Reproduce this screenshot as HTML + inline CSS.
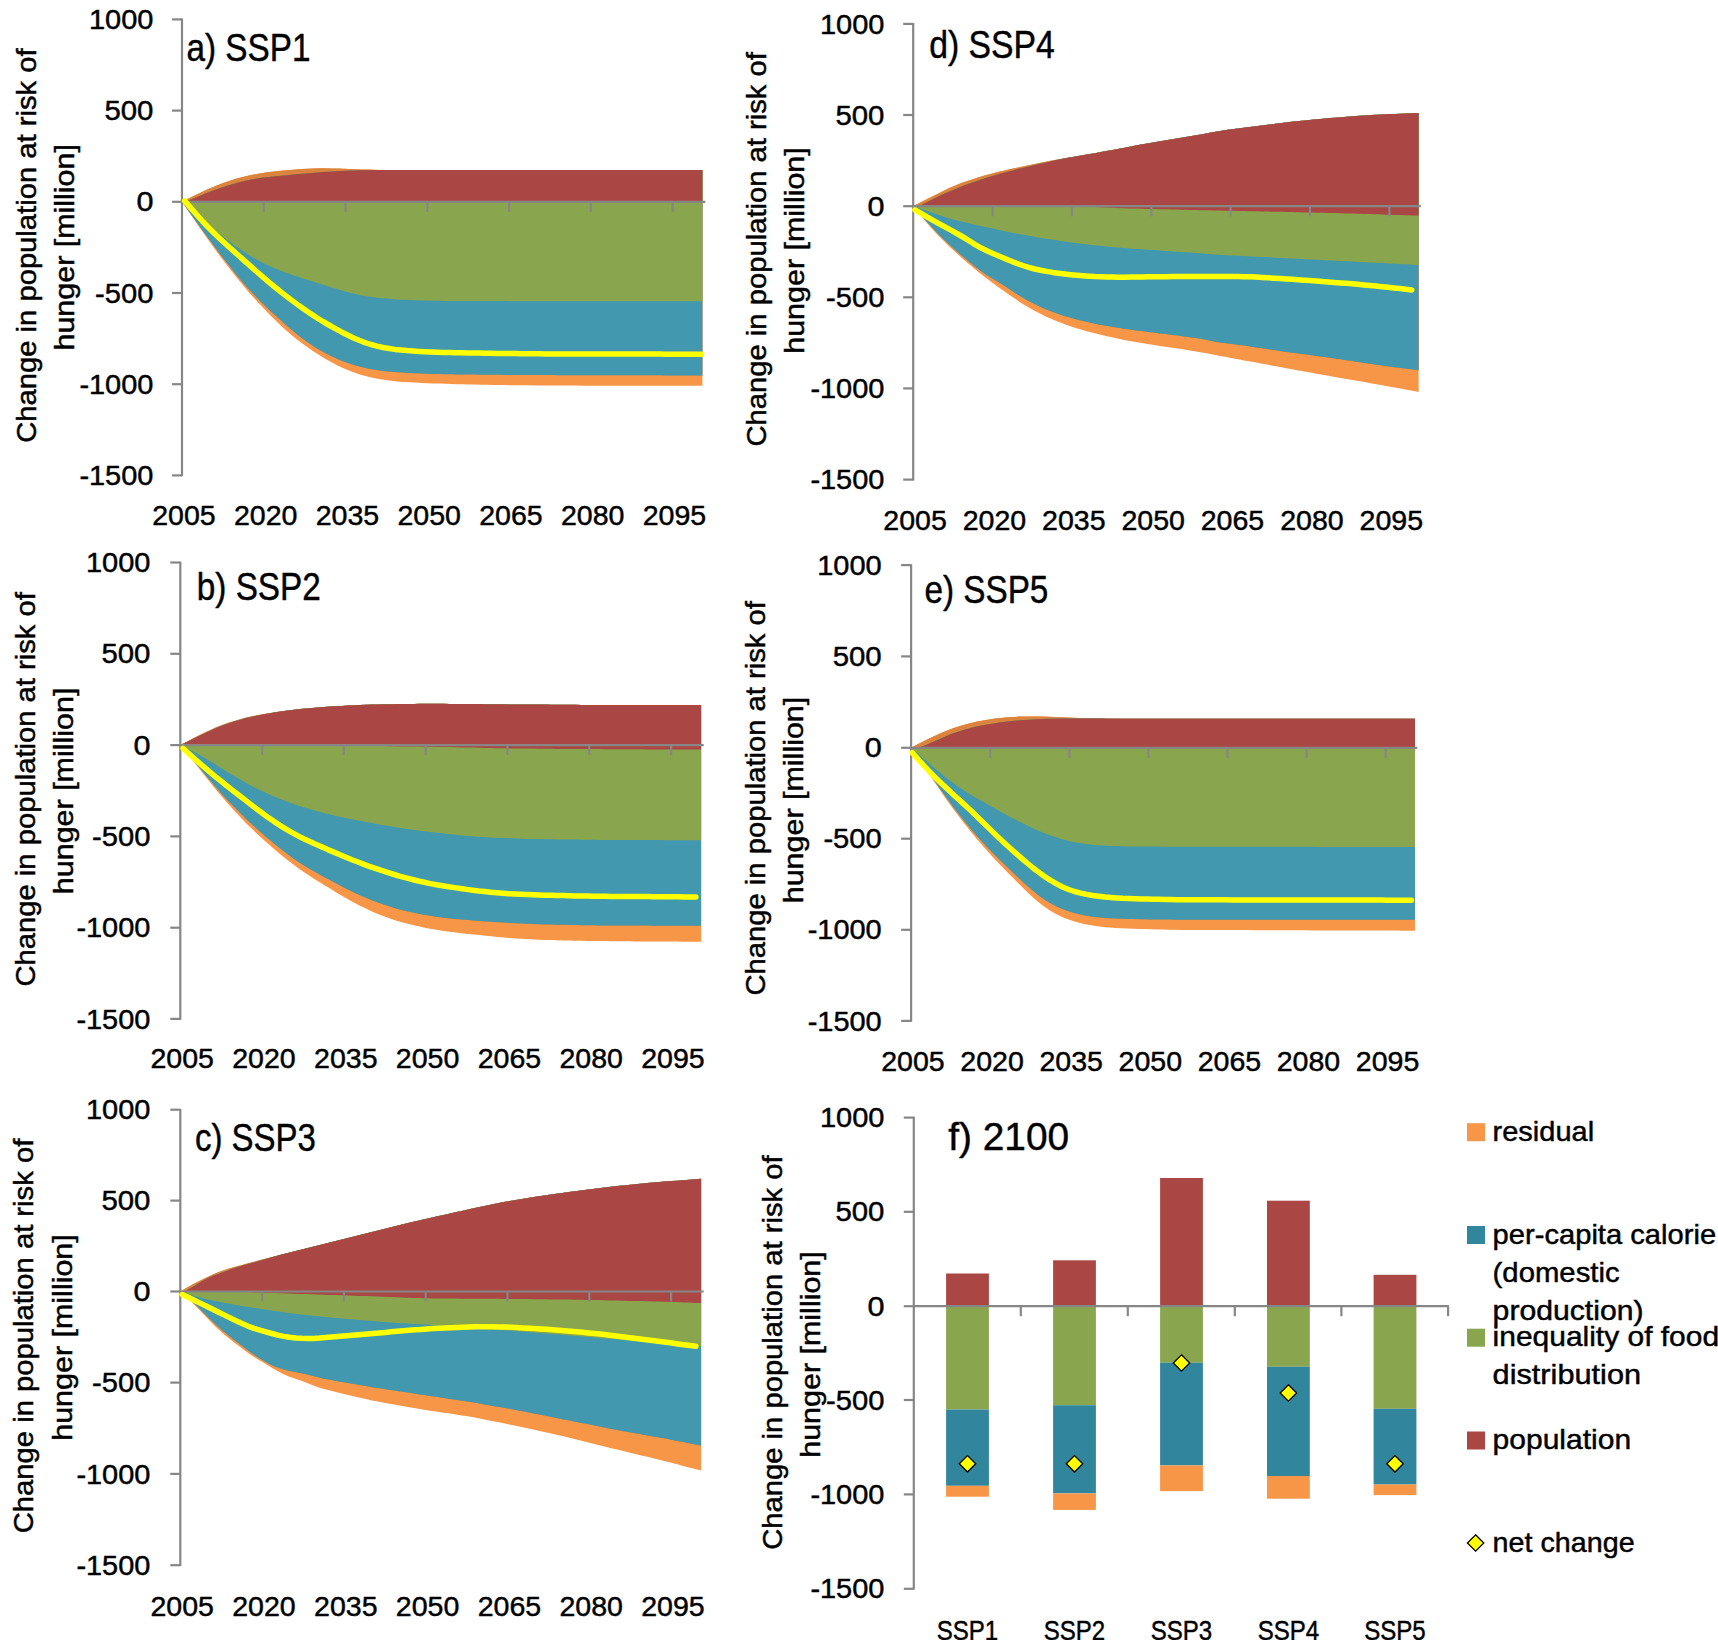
<!DOCTYPE html>
<html lang="en"><head><meta charset="utf-8"><title>Change in population at risk of hunger</title>
<style>html,body{margin:0;padding:0;background:#fff}body{width:1718px;height:1640px;overflow:hidden}svg{display:block}text{font-family:'Liberation Sans', sans-serif;fill:#000;stroke:#000;stroke-width:0.45px}</style>
</head><body>
<svg width="1718" height="1640" viewBox="0 0 1718 1640">
<rect width="1718" height="1640" fill="#fff"/>
<g id="panel-a">
<path d="M182.0 201.8 L188.0 198.8 L194.0 195.8 L199.9 192.9 L205.9 190.1 L211.9 187.4 L217.9 184.9 L223.9 182.7 L229.9 180.7 L235.8 178.8 L241.8 177.2 L247.8 175.8 L253.8 174.5 L259.8 173.4 L265.7 172.5 L271.7 171.7 L277.7 171.0 L283.7 170.4 L289.7 169.9 L295.7 169.4 L301.6 169.0 L307.6 168.7 L313.6 168.5 L319.6 168.3 L325.6 168.3 L331.5 168.4 L337.5 168.5 L343.5 168.7 L349.5 169.0 L355.5 169.2 L361.4 169.4 L367.4 169.6 L373.4 169.8 L379.4 169.9 L385.4 169.9 L391.4 170.0 L397.3 170.0 L403.3 170.0 L409.3 170.0 L415.3 170.0 L421.3 170.0 L427.2 170.0 L433.2 170.0 L439.2 170.0 L445.2 170.0 L451.2 170.0 L457.2 170.0 L463.1 170.0 L469.1 170.0 L475.1 170.0 L481.1 170.0 L487.1 170.0 L493.0 170.0 L499.0 170.0 L505.0 170.0 L511.0 170.0 L517.0 170.0 L523.0 170.0 L528.9 170.0 L534.9 170.0 L540.9 170.0 L546.9 170.0 L552.9 170.0 L558.8 170.0 L564.8 170.0 L570.8 170.0 L576.8 170.0 L582.8 170.0 L588.7 170.0 L594.7 170.0 L600.7 170.0 L606.7 170.0 L612.7 170.0 L618.7 170.0 L624.6 170.0 L630.6 170.0 L636.6 170.0 L642.6 170.0 L648.6 170.0 L654.5 170.0 L660.5 170.0 L666.5 170.0 L672.5 170.0 L678.5 170.0 L684.5 170.0 L690.4 170.0 L696.4 170.0 L702.4 170.0 L702.4 385.8 L696.4 385.8 L690.4 385.8 L684.5 385.8 L678.5 385.8 L672.5 385.8 L666.5 385.8 L660.5 385.8 L654.5 385.7 L648.6 385.7 L642.6 385.7 L636.6 385.7 L630.6 385.7 L624.6 385.7 L618.7 385.7 L612.7 385.7 L606.7 385.7 L600.7 385.7 L594.7 385.7 L588.7 385.7 L582.8 385.7 L576.8 385.6 L570.8 385.6 L564.8 385.6 L558.8 385.6 L552.9 385.5 L546.9 385.5 L540.9 385.4 L534.9 385.4 L528.9 385.3 L523.0 385.3 L517.0 385.2 L511.0 385.2 L505.0 385.1 L499.0 385.0 L493.0 384.9 L487.1 384.8 L481.1 384.7 L475.1 384.6 L469.1 384.4 L463.1 384.3 L457.2 384.2 L451.2 384.0 L445.2 383.8 L439.2 383.6 L433.2 383.4 L427.2 383.2 L421.3 382.9 L415.3 382.6 L409.3 382.3 L403.3 381.9 L397.3 381.4 L391.4 380.8 L385.4 380.0 L379.4 379.1 L373.4 378.0 L367.4 376.6 L361.4 375.0 L355.5 373.1 L349.5 370.8 L343.5 368.3 L337.5 365.5 L331.5 362.3 L325.6 358.9 L319.6 355.3 L313.6 351.4 L307.6 347.3 L301.6 343.0 L295.7 338.4 L289.7 333.4 L283.7 328.2 L277.7 322.6 L271.7 316.7 L265.7 310.6 L259.8 304.3 L253.8 297.7 L247.8 290.9 L241.8 283.8 L235.8 276.5 L229.9 269.0 L223.9 261.2 L217.9 253.3 L211.9 245.0 L205.9 236.6 L199.9 228.1 L194.0 219.4 L188.0 210.6 L182.0 201.8 Z" fill="#F79646"/>
<path d="M182.0 201.8 L188.0 198.8 L194.0 195.8 L199.9 192.9 L205.9 190.1 L211.9 187.4 L217.9 184.9 L223.9 182.7 L229.9 180.7 L235.8 178.8 L241.8 177.2 L247.8 175.8 L253.8 174.5 L259.8 173.4 L265.7 172.5 L271.7 171.7 L277.7 171.0 L283.7 170.4 L289.7 169.9 L295.7 169.4 L301.6 169.0 L307.6 168.7 L313.6 168.5 L319.6 168.3 L325.6 168.3 L331.5 168.4 L337.5 168.5 L343.5 168.7 L349.5 169.0 L355.5 169.2 L361.4 169.4 L367.4 169.6 L373.4 169.8 L379.4 169.9 L385.4 169.9 L391.4 170.0 L397.3 170.0 L403.3 170.0 L409.3 170.0 L415.3 170.0 L421.3 170.0 L427.2 170.0 L433.2 170.0 L439.2 170.0 L445.2 170.0 L451.2 170.0 L457.2 170.0 L463.1 170.0 L469.1 170.0 L475.1 170.0 L481.1 170.0 L487.1 170.0 L493.0 170.0 L499.0 170.0 L505.0 170.0 L511.0 170.0 L517.0 170.0 L523.0 170.0 L528.9 170.0 L534.9 170.0 L540.9 170.0 L546.9 170.0 L552.9 170.0 L558.8 170.0 L564.8 170.0 L570.8 170.0 L576.8 170.0 L582.8 170.0 L588.7 170.0 L594.7 170.0 L600.7 170.0 L606.7 170.0 L612.7 170.0 L618.7 170.0 L624.6 170.0 L630.6 170.0 L636.6 170.0 L642.6 170.0 L648.6 170.0 L654.5 170.0 L660.5 170.0 L666.5 170.0 L672.5 170.0 L678.5 170.0 L684.5 170.0 L690.4 170.0 L696.4 170.0 L702.4 170.0 L702.4 375.4 L696.4 375.4 L690.4 375.4 L684.5 375.4 L678.5 375.4 L672.5 375.4 L666.5 375.4 L660.5 375.3 L654.5 375.3 L648.6 375.3 L642.6 375.3 L636.6 375.3 L630.6 375.3 L624.6 375.3 L618.7 375.3 L612.7 375.3 L606.7 375.3 L600.7 375.3 L594.7 375.3 L588.7 375.3 L582.8 375.2 L576.8 375.2 L570.8 375.2 L564.8 375.2 L558.8 375.2 L552.9 375.1 L546.9 375.1 L540.9 375.1 L534.9 375.1 L528.9 375.0 L523.0 375.0 L517.0 375.0 L511.0 374.9 L505.0 374.9 L499.0 374.8 L493.0 374.8 L487.1 374.7 L481.1 374.7 L475.1 374.6 L469.1 374.5 L463.1 374.5 L457.2 374.4 L451.2 374.3 L445.2 374.2 L439.2 374.0 L433.2 373.9 L427.2 373.7 L421.3 373.5 L415.3 373.2 L409.3 372.9 L403.3 372.6 L397.3 372.2 L391.4 371.8 L385.4 371.2 L379.4 370.5 L373.4 369.6 L367.4 368.5 L361.4 367.1 L355.5 365.5 L349.5 363.6 L343.5 361.4 L337.5 359.0 L331.5 356.2 L325.6 353.2 L319.6 349.9 L313.6 346.3 L307.6 342.3 L301.6 338.0 L295.7 333.2 L289.7 328.2 L283.7 323.0 L277.7 317.6 L271.7 312.2 L265.7 306.6 L259.8 300.7 L253.8 294.5 L247.8 288.0 L241.8 281.2 L235.8 274.0 L229.9 266.6 L223.9 259.0 L217.9 251.1 L211.9 243.1 L205.9 235.0 L199.9 226.8 L194.0 218.5 L188.0 210.2 L182.0 201.8 Z" fill="#DB843D"/>
<path d="M185.0 202.1 L191.0 199.5 L197.0 197.0 L203.0 194.5 L209.1 192.1 L215.1 189.8 L221.1 187.7 L227.1 185.7 L233.1 183.9 L239.1 182.3 L245.2 180.8 L251.2 179.6 L257.2 178.5 L263.2 177.6 L269.2 176.9 L275.2 176.3 L281.3 175.7 L287.3 175.2 L293.3 174.6 L299.3 174.1 L305.3 173.6 L311.3 173.0 L317.4 172.5 L323.4 172.1 L329.4 171.7 L335.4 171.3 L341.4 171.0 L347.4 170.7 L353.5 170.5 L359.5 170.3 L365.5 170.2 L371.5 170.1 L377.5 170.1 L383.5 170.0 L389.6 170.0 L395.6 170.0 L401.6 170.0 L407.6 170.0 L413.6 170.0 L419.6 170.0 L425.7 170.0 L431.7 170.0 L437.7 170.0 L443.7 170.0 L449.7 170.0 L455.7 170.0 L461.7 170.0 L467.8 170.0 L473.8 170.0 L479.8 170.0 L485.8 170.0 L491.8 170.0 L497.8 170.0 L503.9 170.0 L509.9 170.0 L515.9 170.0 L521.9 170.0 L527.9 170.0 L533.9 170.0 L540.0 170.0 L546.0 170.0 L552.0 170.0 L558.0 170.0 L564.0 170.0 L570.0 170.0 L576.1 170.0 L582.1 170.0 L588.1 170.0 L594.1 170.0 L600.1 170.0 L606.1 170.0 L612.2 170.0 L618.2 170.0 L624.2 170.0 L630.2 170.0 L636.2 170.0 L642.2 170.0 L648.3 170.0 L654.3 170.0 L660.3 170.0 L666.3 170.0 L672.3 170.0 L678.3 170.0 L684.4 170.0 L690.4 170.0 L696.4 170.0 L702.4 170.0 L702.4 375.4 L696.4 375.4 L690.4 375.4 L684.5 375.4 L678.5 375.4 L672.5 375.4 L666.5 375.4 L660.5 375.3 L654.5 375.3 L648.6 375.3 L642.6 375.3 L636.6 375.3 L630.6 375.3 L624.6 375.3 L618.7 375.3 L612.7 375.3 L606.7 375.3 L600.7 375.3 L594.7 375.3 L588.7 375.3 L582.8 375.2 L576.8 375.2 L570.8 375.2 L564.8 375.2 L558.8 375.2 L552.9 375.1 L546.9 375.1 L540.9 375.1 L534.9 375.1 L528.9 375.0 L523.0 375.0 L517.0 375.0 L511.0 374.9 L505.0 374.9 L499.0 374.8 L493.0 374.8 L487.1 374.7 L481.1 374.7 L475.1 374.6 L469.1 374.5 L463.1 374.5 L457.2 374.4 L451.2 374.3 L445.2 374.2 L439.2 374.0 L433.2 373.9 L427.2 373.7 L421.3 373.5 L415.3 373.2 L409.3 372.9 L403.3 372.6 L397.3 372.2 L391.4 371.8 L385.4 371.2 L379.4 370.5 L373.4 369.6 L367.4 368.5 L361.4 367.1 L355.5 365.5 L349.5 363.6 L343.5 361.4 L337.5 359.0 L331.5 356.2 L325.6 353.2 L319.6 349.9 L313.6 346.3 L307.6 342.3 L301.6 338.0 L295.7 333.2 L289.7 328.2 L283.7 323.0 L277.7 317.6 L271.7 312.2 L265.7 306.6 L259.8 300.7 L253.8 294.5 L247.8 288.0 L241.8 281.2 L235.8 274.0 L229.9 266.6 L223.9 259.0 L217.9 251.1 L211.9 243.1 L205.9 235.0 L199.9 226.8 L194.0 218.5 L188.0 210.2 L182.0 201.8 Z" fill="#4198AF"/>
<path d="M185.0 202.1 L191.0 199.5 L197.0 197.0 L203.0 194.5 L209.1 192.1 L215.1 189.8 L221.1 187.7 L227.1 185.7 L233.1 183.9 L239.1 182.3 L245.2 180.8 L251.2 179.6 L257.2 178.5 L263.2 177.6 L269.2 176.9 L275.2 176.3 L281.3 175.7 L287.3 175.2 L293.3 174.6 L299.3 174.1 L305.3 173.6 L311.3 173.0 L317.4 172.5 L323.4 172.1 L329.4 171.7 L335.4 171.3 L341.4 171.0 L347.4 170.7 L353.5 170.5 L359.5 170.3 L365.5 170.2 L371.5 170.1 L377.5 170.1 L383.5 170.0 L389.6 170.0 L395.6 170.0 L401.6 170.0 L407.6 170.0 L413.6 170.0 L419.6 170.0 L425.7 170.0 L431.7 170.0 L437.7 170.0 L443.7 170.0 L449.7 170.0 L455.7 170.0 L461.7 170.0 L467.8 170.0 L473.8 170.0 L479.8 170.0 L485.8 170.0 L491.8 170.0 L497.8 170.0 L503.9 170.0 L509.9 170.0 L515.9 170.0 L521.9 170.0 L527.9 170.0 L533.9 170.0 L540.0 170.0 L546.0 170.0 L552.0 170.0 L558.0 170.0 L564.0 170.0 L570.0 170.0 L576.1 170.0 L582.1 170.0 L588.1 170.0 L594.1 170.0 L600.1 170.0 L606.1 170.0 L612.2 170.0 L618.2 170.0 L624.2 170.0 L630.2 170.0 L636.2 170.0 L642.2 170.0 L648.3 170.0 L654.3 170.0 L660.3 170.0 L666.3 170.0 L672.3 170.0 L678.3 170.0 L684.4 170.0 L690.4 170.0 L696.4 170.0 L702.4 170.0 L702.4 301.2 L696.4 301.2 L690.4 301.2 L684.5 301.2 L678.5 301.2 L672.5 301.2 L666.5 301.2 L660.5 301.2 L654.5 301.2 L648.6 301.2 L642.6 301.2 L636.6 301.2 L630.6 301.2 L624.6 301.2 L618.7 301.2 L612.7 301.2 L606.7 301.2 L600.7 301.2 L594.7 301.2 L588.7 301.2 L582.8 301.2 L576.8 301.2 L570.8 301.2 L564.8 301.2 L558.8 301.2 L552.9 301.2 L546.9 301.2 L540.9 301.2 L534.9 301.2 L528.9 301.2 L523.0 301.2 L517.0 301.2 L511.0 301.2 L505.0 301.1 L499.0 301.1 L493.0 301.1 L487.1 301.1 L481.1 301.1 L475.1 301.1 L469.1 301.1 L463.1 301.1 L457.2 301.0 L451.2 301.0 L445.2 300.9 L439.2 300.8 L433.2 300.7 L427.2 300.6 L421.3 300.4 L415.3 300.2 L409.3 300.0 L403.3 299.7 L397.3 299.4 L391.4 299.0 L385.4 298.6 L379.4 298.0 L373.4 297.3 L367.4 296.4 L361.4 295.4 L355.5 294.1 L349.5 292.7 L343.5 291.0 L337.5 289.3 L331.5 287.4 L325.6 285.6 L319.6 283.7 L313.6 281.8 L307.6 279.9 L301.6 278.0 L295.7 276.1 L289.7 274.1 L283.7 271.9 L277.7 269.6 L271.7 267.0 L265.7 264.2 L259.8 261.2 L253.8 257.9 L247.8 254.3 L241.8 250.4 L235.8 246.3 L229.9 242.0 L223.9 237.4 L217.9 232.7 L211.9 227.8 L205.9 222.8 L199.9 217.6 L194.0 212.4 L188.0 207.1 L182.0 201.8 Z" fill="#89A54E"/>
<path d="M185.0 202.1 L191.0 199.5 L197.0 197.0 L203.0 194.5 L209.1 192.1 L215.1 189.8 L221.1 187.7 L227.1 185.7 L233.1 183.9 L239.1 182.3 L245.2 180.8 L251.2 179.6 L257.2 178.5 L263.2 177.6 L269.2 176.9 L275.2 176.3 L281.3 175.7 L287.3 175.2 L293.3 174.6 L299.3 174.1 L305.3 173.6 L311.3 173.0 L317.4 172.5 L323.4 172.1 L329.4 171.7 L335.4 171.3 L341.4 171.0 L347.4 170.7 L353.5 170.5 L359.5 170.3 L365.5 170.2 L371.5 170.1 L377.5 170.1 L383.5 170.0 L389.6 170.0 L395.6 170.0 L401.6 170.0 L407.6 170.0 L413.6 170.0 L419.6 170.0 L425.7 170.0 L431.7 170.0 L437.7 170.0 L443.7 170.0 L449.7 170.0 L455.7 170.0 L461.7 170.0 L467.8 170.0 L473.8 170.0 L479.8 170.0 L485.8 170.0 L491.8 170.0 L497.8 170.0 L503.9 170.0 L509.9 170.0 L515.9 170.0 L521.9 170.0 L527.9 170.0 L533.9 170.0 L540.0 170.0 L546.0 170.0 L552.0 170.0 L558.0 170.0 L564.0 170.0 L570.0 170.0 L576.1 170.0 L582.1 170.0 L588.1 170.0 L594.1 170.0 L600.1 170.0 L606.1 170.0 L612.2 170.0 L618.2 170.0 L624.2 170.0 L630.2 170.0 L636.2 170.0 L642.2 170.0 L648.3 170.0 L654.3 170.0 L660.3 170.0 L666.3 170.0 L672.3 170.0 L678.3 170.0 L684.4 170.0 L690.4 170.0 L696.4 170.0 L702.4 170.0 L702.4 201.8 L182.0 201.8 Z" fill="#AA4643"/>
<path d="M182.0 201.8 H705.3" stroke="#868686" stroke-width="2.2" fill="none"/>
<path d="M263.8 201.8 V211.8" stroke="#868686" stroke-width="2.2" fill="none"/>
<path d="M345.5 201.8 V211.8" stroke="#868686" stroke-width="2.2" fill="none"/>
<path d="M427.3 201.8 V211.8" stroke="#868686" stroke-width="2.2" fill="none"/>
<path d="M509.1 201.8 V211.8" stroke="#868686" stroke-width="2.2" fill="none"/>
<path d="M590.8 201.8 V211.8" stroke="#868686" stroke-width="2.2" fill="none"/>
<path d="M672.6 201.8 V211.8" stroke="#868686" stroke-width="2.2" fill="none"/>
<path d="M182.0 18.6 V476.2" stroke="#868686" stroke-width="2.2" fill="none"/>
<path d="M172.0 19.4 H182.0" stroke="#868686" stroke-width="2.2" fill="none"/>
<path d="M172.0 110.6 H182.0" stroke="#868686" stroke-width="2.2" fill="none"/>
<path d="M172.0 201.8 H182.0" stroke="#868686" stroke-width="2.2" fill="none"/>
<path d="M172.0 293.0 H182.0" stroke="#868686" stroke-width="2.2" fill="none"/>
<path d="M172.0 384.2 H182.0" stroke="#868686" stroke-width="2.2" fill="none"/>
<path d="M172.0 475.4 H182.0" stroke="#868686" stroke-width="2.2" fill="none"/>
<text x="153.4" y="29.0" font-size="27.6" text-anchor="end" textLength="64.5" lengthAdjust="spacingAndGlyphs">1000</text>
<text x="153.4" y="120.2" font-size="27.6" text-anchor="end" textLength="49.0" lengthAdjust="spacingAndGlyphs">500</text>
<text x="153.4" y="211.4" font-size="27.6" text-anchor="end" textLength="17.0" lengthAdjust="spacingAndGlyphs">0</text>
<text x="153.4" y="302.6" font-size="27.6" text-anchor="end" textLength="58.3" lengthAdjust="spacingAndGlyphs">-500</text>
<text x="153.4" y="393.8" font-size="27.6" text-anchor="end" textLength="74.0" lengthAdjust="spacingAndGlyphs">-1000</text>
<text x="153.4" y="485.0" font-size="27.6" text-anchor="end" textLength="74.0" lengthAdjust="spacingAndGlyphs">-1500</text>
<text transform="translate(35.9 245.6) rotate(-90)" font-size="27.6" text-anchor="middle" textLength="394.5" lengthAdjust="spacingAndGlyphs">Change in population at risk of</text>
<text transform="translate(73.8 247.3) rotate(-90)" font-size="27.6" text-anchor="middle" textLength="206.5" lengthAdjust="spacingAndGlyphs">hunger [million]</text>
<path d="M184.7 200.9 L190.7 207.9 L196.7 214.8 L202.7 221.5 L208.7 227.8 L214.7 233.8 L220.8 239.5 L226.8 245.0 L232.8 250.4 L238.8 255.7 L244.8 261.1 L250.8 266.4 L256.8 271.7 L262.8 276.9 L268.8 282.1 L274.8 287.0 L280.8 291.9 L286.9 296.6 L292.9 301.1 L298.9 305.6 L304.9 309.8 L310.9 313.9 L316.9 317.8 L322.9 321.5 L328.9 325.0 L334.9 328.4 L340.9 331.7 L347.0 334.8 L353.0 337.7 L359.0 340.3 L365.0 342.6 L371.0 344.5 L377.0 346.1 L383.0 347.5 L389.0 348.5 L395.0 349.4 L401.0 350.0 L407.0 350.6 L413.1 351.0 L419.1 351.4 L425.1 351.7 L431.1 352.0 L437.1 352.2 L443.1 352.4 L449.1 352.5 L455.1 352.7 L461.1 352.8 L467.1 352.9 L473.1 353.0 L479.2 353.1 L485.2 353.2 L491.2 353.3 L497.2 353.4 L503.2 353.5 L509.2 353.6 L515.2 353.6 L521.2 353.7 L527.2 353.7 L533.2 353.8 L539.2 353.8 L545.3 353.9 L551.3 353.9 L557.3 353.9 L563.3 354.0 L569.3 354.0 L575.3 354.0 L581.3 354.0 L587.3 354.1 L593.3 354.1 L599.3 354.1 L605.4 354.1 L611.4 354.1 L617.4 354.1 L623.4 354.1 L629.4 354.1 L635.4 354.1 L641.4 354.1 L647.4 354.1 L653.4 354.1 L659.4 354.1 L665.4 354.2 L671.5 354.2 L677.5 354.2 L683.5 354.2 L689.5 354.2 L695.5 354.2 L701.5 354.2" stroke="#FFFF00" stroke-width="5.5" fill="none" stroke-linecap="round" stroke-linejoin="round"/>
<text x="183.9" y="524.6" font-size="27.6" text-anchor="middle" textLength="63.5" lengthAdjust="spacingAndGlyphs">2005</text>
<text x="265.7" y="524.6" font-size="27.6" text-anchor="middle" textLength="63.5" lengthAdjust="spacingAndGlyphs">2020</text>
<text x="347.4" y="524.6" font-size="27.6" text-anchor="middle" textLength="63.5" lengthAdjust="spacingAndGlyphs">2035</text>
<text x="429.2" y="524.6" font-size="27.6" text-anchor="middle" textLength="63.5" lengthAdjust="spacingAndGlyphs">2050</text>
<text x="511.0" y="524.6" font-size="27.6" text-anchor="middle" textLength="63.5" lengthAdjust="spacingAndGlyphs">2065</text>
<text x="592.7" y="524.6" font-size="27.6" text-anchor="middle" textLength="63.5" lengthAdjust="spacingAndGlyphs">2080</text>
<text x="674.5" y="524.6" font-size="27.6" text-anchor="middle" textLength="63.5" lengthAdjust="spacingAndGlyphs">2095</text>
<text x="186.5" y="60.5" font-size="39.2" textLength="124.0" lengthAdjust="spacingAndGlyphs">a) SSP1</text>
</g>
<g id="panel-b">
<path d="M180.3 745.1 L186.3 741.9 L192.3 738.8 L198.3 735.7 L204.2 732.7 L210.2 729.9 L216.2 727.3 L222.2 724.9 L228.2 722.8 L234.2 720.9 L240.2 719.2 L246.1 717.6 L252.1 716.3 L258.1 715.1 L264.1 714.0 L270.1 713.0 L276.1 712.1 L282.1 711.2 L288.1 710.5 L294.0 709.7 L300.0 709.1 L306.0 708.5 L312.0 707.9 L318.0 707.4 L324.0 707.0 L330.0 706.6 L335.9 706.2 L341.9 705.9 L347.9 705.6 L353.9 705.3 L359.9 705.0 L365.9 704.8 L371.9 704.6 L377.8 704.4 L383.8 704.3 L389.8 704.2 L395.8 704.1 L401.8 704.0 L407.8 703.9 L413.8 703.9 L419.7 703.8 L425.7 703.8 L431.7 703.8 L437.7 703.8 L443.7 703.8 L449.7 703.9 L455.7 703.9 L461.7 704.0 L467.6 704.0 L473.6 704.1 L479.6 704.1 L485.6 704.2 L491.6 704.2 L497.6 704.3 L503.6 704.3 L509.5 704.4 L515.5 704.4 L521.5 704.5 L527.5 704.5 L533.5 704.6 L539.5 704.6 L545.5 704.6 L551.4 704.7 L557.4 704.7 L563.4 704.8 L569.4 704.8 L575.4 704.8 L581.4 704.9 L587.4 704.9 L593.3 704.9 L599.3 704.9 L605.3 704.9 L611.3 704.9 L617.3 704.9 L623.3 705.0 L629.3 705.0 L635.3 705.0 L641.2 705.0 L647.2 705.0 L653.2 705.0 L659.2 705.0 L665.2 705.0 L671.2 705.0 L677.2 705.0 L683.1 705.0 L689.1 705.0 L695.1 705.0 L701.1 705.0 L701.1 941.8 L695.1 941.8 L689.1 941.7 L683.1 941.7 L677.2 941.6 L671.2 941.6 L665.2 941.6 L659.2 941.5 L653.2 941.5 L647.2 941.4 L641.2 941.4 L635.3 941.4 L629.3 941.3 L623.3 941.3 L617.3 941.2 L611.3 941.2 L605.3 941.1 L599.3 941.1 L593.3 941.0 L587.4 940.9 L581.4 940.8 L575.4 940.7 L569.4 940.6 L563.4 940.4 L557.4 940.3 L551.4 940.1 L545.5 939.9 L539.5 939.7 L533.5 939.4 L527.5 939.1 L521.5 938.8 L515.5 938.5 L509.5 938.0 L503.6 937.5 L497.6 936.9 L491.6 936.3 L485.6 935.7 L479.6 935.1 L473.6 934.5 L467.6 933.9 L461.7 933.2 L455.7 932.6 L449.7 931.8 L443.7 931.0 L437.7 930.0 L431.7 929.0 L425.7 927.9 L419.7 926.6 L413.8 925.3 L407.8 923.8 L401.8 922.2 L395.8 920.4 L389.8 918.4 L383.8 916.2 L377.8 913.9 L371.9 911.4 L365.9 908.6 L359.9 905.7 L353.9 902.6 L347.9 899.3 L341.9 895.8 L335.9 892.3 L330.0 888.6 L324.0 885.0 L318.0 881.3 L312.0 877.5 L306.0 873.6 L300.0 869.4 L294.0 865.1 L288.1 860.5 L282.1 855.8 L276.1 850.8 L270.1 845.6 L264.1 840.3 L258.1 834.8 L252.1 829.1 L246.1 823.2 L240.2 817.0 L234.2 810.6 L228.2 804.0 L222.2 797.1 L216.2 789.9 L210.2 782.5 L204.2 775.1 L198.3 767.5 L192.3 760.0 L186.3 752.6 L180.3 745.1 Z" fill="#F79646"/>
<path d="M180.3 745.1 L186.3 741.9 L192.3 738.8 L198.3 735.7 L204.2 732.7 L210.2 729.9 L216.2 727.3 L222.2 724.9 L228.2 722.8 L234.2 720.9 L240.2 719.2 L246.1 717.6 L252.1 716.3 L258.1 715.1 L264.1 714.0 L270.1 713.0 L276.1 712.1 L282.1 711.2 L288.1 710.5 L294.0 709.7 L300.0 709.1 L306.0 708.5 L312.0 707.9 L318.0 707.4 L324.0 707.0 L330.0 706.6 L335.9 706.2 L341.9 705.9 L347.9 705.6 L353.9 705.3 L359.9 705.0 L365.9 704.8 L371.9 704.6 L377.8 704.4 L383.8 704.3 L389.8 704.2 L395.8 704.1 L401.8 704.0 L407.8 703.9 L413.8 703.9 L419.7 703.8 L425.7 703.8 L431.7 703.8 L437.7 703.8 L443.7 703.8 L449.7 703.9 L455.7 703.9 L461.7 704.0 L467.6 704.0 L473.6 704.1 L479.6 704.1 L485.6 704.2 L491.6 704.2 L497.6 704.3 L503.6 704.3 L509.5 704.4 L515.5 704.4 L521.5 704.5 L527.5 704.5 L533.5 704.6 L539.5 704.6 L545.5 704.6 L551.4 704.7 L557.4 704.7 L563.4 704.8 L569.4 704.8 L575.4 704.8 L581.4 704.9 L587.4 704.9 L593.3 704.9 L599.3 704.9 L605.3 704.9 L611.3 704.9 L617.3 704.9 L623.3 705.0 L629.3 705.0 L635.3 705.0 L641.2 705.0 L647.2 705.0 L653.2 705.0 L659.2 705.0 L665.2 705.0 L671.2 705.0 L677.2 705.0 L683.1 705.0 L689.1 705.0 L695.1 705.0 L701.1 705.0 L701.1 925.8 L695.1 925.8 L689.1 925.8 L683.1 925.7 L677.2 925.7 L671.2 925.7 L665.2 925.7 L659.2 925.7 L653.2 925.7 L647.2 925.6 L641.2 925.6 L635.3 925.6 L629.3 925.6 L623.3 925.6 L617.3 925.5 L611.3 925.5 L605.3 925.5 L599.3 925.4 L593.3 925.3 L587.4 925.3 L581.4 925.2 L575.4 925.1 L569.4 924.9 L563.4 924.8 L557.4 924.7 L551.4 924.5 L545.5 924.4 L539.5 924.2 L533.5 923.9 L527.5 923.7 L521.5 923.4 L515.5 923.2 L509.5 922.9 L503.6 922.5 L497.6 922.2 L491.6 921.8 L485.6 921.4 L479.6 921.0 L473.6 920.6 L467.6 920.1 L461.7 919.6 L455.7 919.0 L449.7 918.4 L443.7 917.7 L437.7 916.9 L431.7 916.0 L425.7 915.1 L419.7 914.0 L413.8 912.8 L407.8 911.5 L401.8 910.0 L395.8 908.4 L389.8 906.6 L383.8 904.6 L377.8 902.5 L371.9 900.2 L365.9 897.8 L359.9 895.2 L353.9 892.4 L347.9 889.5 L341.9 886.4 L335.9 883.3 L330.0 880.1 L324.0 876.9 L318.0 873.6 L312.0 870.2 L306.0 866.7 L300.0 862.9 L294.0 858.9 L288.1 854.6 L282.1 850.0 L276.1 845.3 L270.1 840.3 L264.1 835.2 L258.1 829.9 L252.1 824.5 L246.1 818.9 L240.2 813.1 L234.2 807.1 L228.2 800.9 L222.2 794.4 L216.2 787.6 L210.2 780.5 L204.2 773.4 L198.3 766.2 L192.3 759.1 L186.3 752.1 L180.3 745.1 Z" fill="#DB843D"/>
<path d="M180.3 745.1 L186.3 742.2 L192.3 739.2 L198.3 736.3 L204.2 733.5 L210.2 730.7 L216.2 728.1 L222.2 725.6 L228.2 723.4 L234.2 721.5 L240.2 719.7 L246.1 718.1 L252.1 716.7 L258.1 715.4 L264.1 714.2 L270.1 713.2 L276.1 712.2 L282.1 711.3 L288.1 710.5 L294.0 709.8 L300.0 709.1 L306.0 708.5 L312.0 707.9 L318.0 707.4 L324.0 707.0 L330.0 706.6 L335.9 706.2 L341.9 705.9 L347.9 705.6 L353.9 705.3 L359.9 705.0 L365.9 704.8 L371.9 704.6 L377.8 704.4 L383.8 704.3 L389.8 704.2 L395.8 704.1 L401.8 704.0 L407.8 703.9 L413.8 703.9 L419.7 703.8 L425.7 703.8 L431.7 703.8 L437.7 703.8 L443.7 703.8 L449.7 703.9 L455.7 703.9 L461.7 704.0 L467.6 704.0 L473.6 704.1 L479.6 704.1 L485.6 704.2 L491.6 704.2 L497.6 704.3 L503.6 704.3 L509.5 704.4 L515.5 704.4 L521.5 704.5 L527.5 704.5 L533.5 704.6 L539.5 704.6 L545.5 704.6 L551.4 704.7 L557.4 704.7 L563.4 704.8 L569.4 704.8 L575.4 704.8 L581.4 704.9 L587.4 704.9 L593.3 704.9 L599.3 704.9 L605.3 704.9 L611.3 704.9 L617.3 704.9 L623.3 705.0 L629.3 705.0 L635.3 705.0 L641.2 705.0 L647.2 705.0 L653.2 705.0 L659.2 705.0 L665.2 705.0 L671.2 705.0 L677.2 705.0 L683.1 705.0 L689.1 705.0 L695.1 705.0 L701.1 705.0 L701.1 925.8 L695.1 925.8 L689.1 925.8 L683.1 925.7 L677.2 925.7 L671.2 925.7 L665.2 925.7 L659.2 925.7 L653.2 925.7 L647.2 925.6 L641.2 925.6 L635.3 925.6 L629.3 925.6 L623.3 925.6 L617.3 925.5 L611.3 925.5 L605.3 925.5 L599.3 925.4 L593.3 925.3 L587.4 925.3 L581.4 925.2 L575.4 925.1 L569.4 924.9 L563.4 924.8 L557.4 924.7 L551.4 924.5 L545.5 924.4 L539.5 924.2 L533.5 923.9 L527.5 923.7 L521.5 923.4 L515.5 923.2 L509.5 922.9 L503.6 922.5 L497.6 922.2 L491.6 921.8 L485.6 921.4 L479.6 921.0 L473.6 920.6 L467.6 920.1 L461.7 919.6 L455.7 919.0 L449.7 918.4 L443.7 917.7 L437.7 916.9 L431.7 916.0 L425.7 915.1 L419.7 914.0 L413.8 912.8 L407.8 911.5 L401.8 910.0 L395.8 908.4 L389.8 906.6 L383.8 904.6 L377.8 902.5 L371.9 900.2 L365.9 897.8 L359.9 895.2 L353.9 892.4 L347.9 889.5 L341.9 886.4 L335.9 883.3 L330.0 880.1 L324.0 876.9 L318.0 873.6 L312.0 870.2 L306.0 866.7 L300.0 862.9 L294.0 858.9 L288.1 854.6 L282.1 850.0 L276.1 845.3 L270.1 840.3 L264.1 835.2 L258.1 829.9 L252.1 824.5 L246.1 818.9 L240.2 813.1 L234.2 807.1 L228.2 800.9 L222.2 794.4 L216.2 787.6 L210.2 780.5 L204.2 773.4 L198.3 766.2 L192.3 759.1 L186.3 752.1 L180.3 745.1 Z" fill="#4198AF"/>
<path d="M180.3 745.1 L186.3 742.2 L192.3 739.2 L198.3 736.3 L204.2 733.5 L210.2 730.7 L216.2 728.1 L222.2 725.6 L228.2 723.4 L234.2 721.5 L240.2 719.7 L246.1 718.1 L252.1 716.7 L258.1 715.4 L264.1 714.2 L270.1 713.2 L276.1 712.2 L282.1 711.3 L288.1 710.5 L294.0 709.8 L300.0 709.1 L306.0 708.5 L312.0 707.9 L318.0 707.4 L324.0 707.0 L330.0 706.6 L335.9 706.2 L341.9 705.9 L347.9 705.6 L353.9 705.3 L359.9 705.0 L365.9 704.8 L371.9 704.6 L377.8 704.4 L383.8 704.3 L389.8 704.2 L395.8 704.1 L401.8 704.0 L407.8 703.9 L413.8 703.9 L419.7 703.8 L425.7 703.8 L431.7 703.8 L437.7 703.8 L443.7 703.8 L449.7 703.9 L455.7 703.9 L461.7 704.0 L467.6 704.0 L473.6 704.1 L479.6 704.1 L485.6 704.2 L491.6 704.2 L497.6 704.3 L503.6 704.3 L509.5 704.4 L515.5 704.4 L521.5 704.5 L527.5 704.5 L533.5 704.6 L539.5 704.6 L545.5 704.6 L551.4 704.7 L557.4 704.7 L563.4 704.8 L569.4 704.8 L575.4 704.8 L581.4 704.9 L587.4 704.9 L593.3 704.9 L599.3 704.9 L605.3 704.9 L611.3 704.9 L617.3 704.9 L623.3 705.0 L629.3 705.0 L635.3 705.0 L641.2 705.0 L647.2 705.0 L653.2 705.0 L659.2 705.0 L665.2 705.0 L671.2 705.0 L677.2 705.0 L683.1 705.0 L689.1 705.0 L695.1 705.0 L701.1 705.0 L701.1 840.3 L695.1 840.3 L689.1 840.3 L683.1 840.2 L677.2 840.2 L671.2 840.2 L665.2 840.2 L659.2 840.1 L653.2 840.1 L647.2 840.1 L641.2 840.1 L635.3 840.1 L629.3 840.0 L623.3 840.0 L617.3 840.0 L611.3 840.0 L605.3 839.9 L599.3 839.9 L593.3 839.8 L587.4 839.8 L581.4 839.7 L575.4 839.6 L569.4 839.6 L563.4 839.5 L557.4 839.4 L551.4 839.3 L545.5 839.2 L539.5 839.1 L533.5 839.0 L527.5 838.9 L521.5 838.7 L515.5 838.5 L509.5 838.3 L503.6 838.1 L497.6 837.9 L491.6 837.6 L485.6 837.3 L479.6 836.9 L473.6 836.5 L467.6 836.0 L461.7 835.4 L455.7 834.8 L449.7 834.2 L443.7 833.5 L437.7 832.8 L431.7 832.2 L425.7 831.5 L419.7 830.7 L413.8 829.9 L407.8 829.1 L401.8 828.2 L395.8 827.2 L389.8 826.2 L383.8 825.2 L377.8 824.2 L371.9 823.1 L365.9 822.0 L359.9 820.8 L353.9 819.7 L347.9 818.4 L341.9 817.2 L335.9 815.9 L330.0 814.5 L324.0 813.1 L318.0 811.5 L312.0 809.8 L306.0 808.1 L300.0 806.2 L294.0 804.2 L288.1 802.0 L282.1 799.8 L276.1 797.4 L270.1 794.9 L264.1 792.1 L258.1 789.3 L252.1 786.2 L246.1 783.0 L240.2 779.6 L234.2 776.1 L228.2 772.5 L222.2 768.7 L216.2 764.9 L210.2 761.2 L204.2 757.7 L198.3 754.3 L192.3 751.1 L186.3 748.1 L180.3 745.1 Z" fill="#89A54E"/>
<path d="M180.3 745.1 L186.3 742.2 L192.3 739.2 L198.3 736.3 L204.2 733.5 L210.2 730.7 L216.2 728.1 L222.2 725.6 L228.2 723.4 L234.2 721.5 L240.2 719.7 L246.1 718.1 L252.1 716.7 L258.1 715.4 L264.1 714.2 L270.1 713.2 L276.1 712.2 L282.1 711.3 L288.1 710.5 L294.0 709.8 L300.0 709.1 L306.0 708.5 L312.0 707.9 L318.0 707.4 L324.0 707.0 L330.0 706.6 L335.9 706.2 L341.9 705.9 L347.9 705.6 L353.9 705.3 L359.9 705.0 L365.9 704.8 L371.9 704.6 L377.8 704.4 L383.8 704.3 L389.8 704.2 L395.8 704.1 L401.8 704.0 L407.8 703.9 L413.8 703.9 L419.7 703.8 L425.7 703.8 L431.7 703.8 L437.7 703.8 L443.7 703.8 L449.7 703.9 L455.7 703.9 L461.7 704.0 L467.6 704.0 L473.6 704.1 L479.6 704.1 L485.6 704.2 L491.6 704.2 L497.6 704.3 L503.6 704.3 L509.5 704.4 L515.5 704.4 L521.5 704.5 L527.5 704.5 L533.5 704.6 L539.5 704.6 L545.5 704.6 L551.4 704.7 L557.4 704.7 L563.4 704.8 L569.4 704.8 L575.4 704.8 L581.4 704.9 L587.4 704.9 L593.3 704.9 L599.3 704.9 L605.3 704.9 L611.3 704.9 L617.3 704.9 L623.3 705.0 L629.3 705.0 L635.3 705.0 L641.2 705.0 L647.2 705.0 L653.2 705.0 L659.2 705.0 L665.2 705.0 L671.2 705.0 L677.2 705.0 L683.1 705.0 L689.1 705.0 L695.1 705.0 L701.1 705.0 L701.1 749.5 L695.1 749.5 L689.1 749.5 L683.1 749.5 L677.2 749.4 L671.2 749.4 L665.2 749.4 L659.2 749.4 L653.2 749.4 L647.2 749.4 L641.2 749.3 L635.3 749.3 L629.3 749.3 L623.3 749.3 L617.3 749.2 L611.3 749.2 L605.3 749.2 L599.3 749.1 L593.3 749.1 L587.4 749.1 L581.4 749.0 L575.4 749.0 L569.4 749.0 L563.4 748.9 L557.4 748.9 L551.4 748.8 L545.5 748.7 L539.5 748.7 L533.5 748.6 L527.5 748.6 L521.5 748.5 L515.5 748.4 L509.5 748.4 L503.6 748.3 L497.6 748.2 L491.6 748.0 L485.6 747.9 L479.6 747.8 L473.6 747.6 L467.6 747.5 L461.7 747.4 L455.7 747.2 L449.7 747.1 L443.7 747.0 L437.7 746.9 L431.7 746.8 L425.7 746.7 L419.7 746.6 L413.8 746.5 L407.8 746.5 L401.8 746.4 L395.8 746.3 L389.8 746.2 L383.8 746.1 L377.8 746.0 L371.9 745.9 L365.9 745.9 L359.9 745.8 L353.9 745.7 L347.9 745.6 L341.9 745.5 L335.9 745.5 L330.0 745.4 L324.0 745.4 L318.0 745.4 L312.0 745.4 L306.0 745.4 L300.0 745.3 L294.0 745.3 L288.1 745.3 L282.1 745.3 L276.1 745.3 L270.1 745.3 L264.1 745.3 L258.1 745.3 L252.1 745.2 L246.1 745.2 L240.2 745.2 L234.2 745.2 L228.2 745.2 L222.2 745.2 L216.2 745.2 L210.2 745.2 L204.2 745.1 L198.3 745.1 L192.3 745.1 L186.3 745.1 L180.3 745.1 Z" fill="#AA4643"/>
<path d="M180.3 745.1 H703.7" stroke="#868686" stroke-width="2.2" fill="none"/>
<path d="M262.1 745.1 V755.1" stroke="#868686" stroke-width="2.2" fill="none"/>
<path d="M343.9 745.1 V755.1" stroke="#868686" stroke-width="2.2" fill="none"/>
<path d="M425.7 745.1 V755.1" stroke="#868686" stroke-width="2.2" fill="none"/>
<path d="M507.5 745.1 V755.1" stroke="#868686" stroke-width="2.2" fill="none"/>
<path d="M589.3 745.1 V755.1" stroke="#868686" stroke-width="2.2" fill="none"/>
<path d="M671.1 745.1 V755.1" stroke="#868686" stroke-width="2.2" fill="none"/>
<path d="M180.3 561.7 V1019.7" stroke="#868686" stroke-width="2.2" fill="none"/>
<path d="M170.3 562.5 H180.3" stroke="#868686" stroke-width="2.2" fill="none"/>
<path d="M170.3 653.8 H180.3" stroke="#868686" stroke-width="2.2" fill="none"/>
<path d="M170.3 745.1 H180.3" stroke="#868686" stroke-width="2.2" fill="none"/>
<path d="M170.3 836.4 H180.3" stroke="#868686" stroke-width="2.2" fill="none"/>
<path d="M170.3 927.7 H180.3" stroke="#868686" stroke-width="2.2" fill="none"/>
<path d="M170.3 1018.9 H180.3" stroke="#868686" stroke-width="2.2" fill="none"/>
<text x="150.4" y="572.1" font-size="27.6" text-anchor="end" textLength="64.5" lengthAdjust="spacingAndGlyphs">1000</text>
<text x="150.4" y="663.4" font-size="27.6" text-anchor="end" textLength="49.0" lengthAdjust="spacingAndGlyphs">500</text>
<text x="150.4" y="754.7" font-size="27.6" text-anchor="end" textLength="17.0" lengthAdjust="spacingAndGlyphs">0</text>
<text x="150.4" y="846.0" font-size="27.6" text-anchor="end" textLength="58.3" lengthAdjust="spacingAndGlyphs">-500</text>
<text x="150.4" y="937.3" font-size="27.6" text-anchor="end" textLength="74.0" lengthAdjust="spacingAndGlyphs">-1000</text>
<text x="150.4" y="1028.5" font-size="27.6" text-anchor="end" textLength="74.0" lengthAdjust="spacingAndGlyphs">-1500</text>
<text transform="translate(34.9 789.3) rotate(-90)" font-size="27.6" text-anchor="middle" textLength="394.5" lengthAdjust="spacingAndGlyphs">Change in population at risk of</text>
<text transform="translate(73.1 790.9) rotate(-90)" font-size="27.6" text-anchor="middle" textLength="206.5" lengthAdjust="spacingAndGlyphs">hunger [million]</text>
<path d="M183.0 748.3 L189.0 753.7 L195.1 759.2 L201.1 764.5 L207.1 769.7 L213.2 774.8 L219.2 779.7 L225.2 784.5 L231.3 789.3 L237.3 794.0 L243.3 798.7 L249.4 803.4 L255.4 808.0 L261.4 812.5 L267.5 816.9 L273.5 821.1 L279.5 825.1 L285.6 828.9 L291.6 832.4 L297.6 835.6 L303.7 838.7 L309.7 841.5 L315.7 844.3 L321.8 846.9 L327.8 849.6 L333.8 852.1 L339.9 854.7 L345.9 857.2 L351.9 859.7 L358.0 862.0 L364.0 864.4 L370.0 866.6 L376.1 868.7 L382.1 870.7 L388.1 872.7 L394.2 874.5 L400.2 876.3 L406.2 877.9 L412.3 879.5 L418.3 881.0 L424.3 882.3 L430.4 883.6 L436.4 884.7 L442.5 885.7 L448.5 886.7 L454.5 887.6 L460.6 888.5 L466.6 889.4 L472.6 890.2 L478.7 891.0 L484.7 891.6 L490.7 892.2 L496.8 892.8 L502.8 893.3 L508.8 893.7 L514.9 894.0 L520.9 894.3 L526.9 894.6 L533.0 894.8 L539.0 895.0 L545.0 895.2 L551.1 895.3 L557.1 895.5 L563.1 895.6 L569.2 895.8 L575.2 895.9 L581.2 896.0 L587.3 896.1 L593.3 896.2 L599.3 896.2 L605.4 896.3 L611.4 896.4 L617.4 896.4 L623.5 896.5 L629.5 896.5 L635.5 896.6 L641.6 896.6 L647.6 896.6 L653.6 896.7 L659.7 896.7 L665.7 896.8 L671.7 896.8 L677.8 896.8 L683.8 896.9 L689.8 896.9 L695.9 897.0" stroke="#FFFF00" stroke-width="5.5" fill="none" stroke-linecap="round" stroke-linejoin="round"/>
<text x="182.2" y="1067.9" font-size="27.6" text-anchor="middle" textLength="63.5" lengthAdjust="spacingAndGlyphs">2005</text>
<text x="264.0" y="1067.9" font-size="27.6" text-anchor="middle" textLength="63.5" lengthAdjust="spacingAndGlyphs">2020</text>
<text x="345.8" y="1067.9" font-size="27.6" text-anchor="middle" textLength="63.5" lengthAdjust="spacingAndGlyphs">2035</text>
<text x="427.6" y="1067.9" font-size="27.6" text-anchor="middle" textLength="63.5" lengthAdjust="spacingAndGlyphs">2050</text>
<text x="509.4" y="1067.9" font-size="27.6" text-anchor="middle" textLength="63.5" lengthAdjust="spacingAndGlyphs">2065</text>
<text x="591.2" y="1067.9" font-size="27.6" text-anchor="middle" textLength="63.5" lengthAdjust="spacingAndGlyphs">2080</text>
<text x="673.0" y="1067.9" font-size="27.6" text-anchor="middle" textLength="63.5" lengthAdjust="spacingAndGlyphs">2095</text>
<text x="196.8" y="600.2" font-size="39.2" textLength="124.0" lengthAdjust="spacingAndGlyphs">b) SSP2</text>
</g>
<g id="panel-c">
<path d="M180.3 1291.5 L186.3 1288.0 L192.3 1284.6 L198.3 1281.5 L204.2 1278.6 L210.2 1275.8 L216.2 1273.1 L222.2 1270.8 L228.2 1268.8 L234.2 1267.1 L240.2 1265.4 L246.1 1263.8 L252.1 1262.2 L258.1 1260.6 L264.1 1259.0 L270.1 1257.5 L276.1 1255.9 L282.1 1254.4 L288.1 1252.9 L294.0 1251.4 L300.0 1249.9 L306.0 1248.4 L312.0 1246.9 L318.0 1245.4 L324.0 1243.9 L330.0 1242.4 L335.9 1240.9 L341.9 1239.4 L347.9 1237.9 L353.9 1236.4 L359.9 1234.9 L365.9 1233.4 L371.9 1231.9 L377.8 1230.4 L383.8 1228.9 L389.8 1227.5 L395.8 1226.0 L401.8 1224.6 L407.8 1223.1 L413.8 1221.7 L419.7 1220.3 L425.7 1218.9 L431.7 1217.6 L437.7 1216.2 L443.7 1214.9 L449.7 1213.5 L455.7 1212.2 L461.7 1210.9 L467.6 1209.6 L473.6 1208.3 L479.6 1207.0 L485.6 1205.7 L491.6 1204.4 L497.6 1203.2 L503.6 1202.1 L509.5 1201.1 L515.5 1200.1 L521.5 1199.1 L527.5 1198.1 L533.5 1197.1 L539.5 1196.2 L545.5 1195.3 L551.4 1194.5 L557.4 1193.6 L563.4 1192.8 L569.4 1192.0 L575.4 1191.2 L581.4 1190.4 L587.4 1189.6 L593.3 1188.9 L599.3 1188.1 L605.3 1187.4 L611.3 1186.7 L617.3 1186.0 L623.3 1185.4 L629.3 1184.8 L635.3 1184.2 L641.2 1183.6 L647.2 1183.0 L653.2 1182.5 L659.2 1182.0 L665.2 1181.6 L671.2 1181.1 L677.2 1180.7 L683.1 1180.2 L689.1 1179.8 L695.1 1179.3 L701.1 1178.8 L701.1 1470.6 L695.1 1469.0 L689.1 1467.4 L683.1 1465.9 L677.2 1464.3 L671.2 1462.7 L665.2 1461.2 L659.2 1459.7 L653.2 1458.3 L647.2 1456.8 L641.2 1455.4 L635.3 1454.0 L629.3 1452.5 L623.3 1451.1 L617.3 1449.6 L611.3 1448.2 L605.3 1446.7 L599.3 1445.2 L593.3 1443.7 L587.4 1442.2 L581.4 1440.7 L575.4 1439.2 L569.4 1437.7 L563.4 1436.3 L557.4 1435.0 L551.4 1433.6 L545.5 1432.3 L539.5 1430.9 L533.5 1429.6 L527.5 1428.3 L521.5 1426.9 L515.5 1425.7 L509.5 1424.5 L503.6 1423.3 L497.6 1422.1 L491.6 1420.9 L485.6 1419.7 L479.6 1418.5 L473.6 1417.3 L467.6 1416.3 L461.7 1415.4 L455.7 1414.5 L449.7 1413.6 L443.7 1412.7 L437.7 1411.8 L431.7 1410.9 L425.7 1410.0 L419.7 1409.0 L413.8 1408.0 L407.8 1406.9 L401.8 1405.9 L395.8 1404.8 L389.8 1403.8 L383.8 1402.7 L377.8 1401.6 L371.9 1400.5 L365.9 1399.1 L359.9 1397.7 L353.9 1396.3 L347.9 1394.9 L341.9 1393.5 L335.9 1392.1 L330.0 1390.6 L324.0 1389.1 L318.0 1387.3 L312.0 1385.0 L306.0 1382.6 L300.0 1380.3 L294.0 1378.2 L288.1 1376.2 L282.1 1373.6 L276.1 1370.3 L270.1 1366.7 L264.1 1363.1 L258.1 1359.5 L252.1 1355.7 L246.1 1351.5 L240.2 1347.0 L234.2 1342.5 L228.2 1337.7 L222.2 1332.7 L216.2 1327.3 L210.2 1321.2 L204.2 1315.0 L198.3 1308.8 L192.3 1302.8 L186.3 1297.1 L180.3 1291.5 Z" fill="#F79646"/>
<path d="M180.3 1291.5 L186.3 1288.0 L192.3 1284.6 L198.3 1281.5 L204.2 1278.6 L210.2 1275.8 L216.2 1273.1 L222.2 1270.8 L228.2 1268.8 L234.2 1267.1 L240.2 1265.4 L246.1 1263.8 L252.1 1262.2 L258.1 1260.6 L264.1 1259.0 L270.1 1257.5 L276.1 1255.9 L282.1 1254.4 L288.1 1252.9 L294.0 1251.4 L300.0 1249.9 L306.0 1248.4 L312.0 1246.9 L318.0 1245.4 L324.0 1243.9 L330.0 1242.4 L335.9 1240.9 L341.9 1239.4 L347.9 1237.9 L353.9 1236.4 L359.9 1234.9 L365.9 1233.4 L371.9 1231.9 L377.8 1230.4 L383.8 1228.9 L389.8 1227.5 L395.8 1226.0 L401.8 1224.6 L407.8 1223.1 L413.8 1221.7 L419.7 1220.3 L425.7 1218.9 L431.7 1217.6 L437.7 1216.2 L443.7 1214.9 L449.7 1213.5 L455.7 1212.2 L461.7 1210.9 L467.6 1209.6 L473.6 1208.3 L479.6 1207.0 L485.6 1205.7 L491.6 1204.4 L497.6 1203.2 L503.6 1202.1 L509.5 1201.1 L515.5 1200.1 L521.5 1199.1 L527.5 1198.1 L533.5 1197.1 L539.5 1196.2 L545.5 1195.3 L551.4 1194.5 L557.4 1193.6 L563.4 1192.8 L569.4 1192.0 L575.4 1191.2 L581.4 1190.4 L587.4 1189.6 L593.3 1188.9 L599.3 1188.1 L605.3 1187.4 L611.3 1186.7 L617.3 1186.0 L623.3 1185.4 L629.3 1184.8 L635.3 1184.2 L641.2 1183.6 L647.2 1183.0 L653.2 1182.5 L659.2 1182.0 L665.2 1181.6 L671.2 1181.1 L677.2 1180.7 L683.1 1180.2 L689.1 1179.8 L695.1 1179.3 L701.1 1178.8 L701.1 1445.6 L695.1 1444.4 L689.1 1443.2 L683.1 1442.0 L677.2 1440.9 L671.2 1439.7 L665.2 1438.6 L659.2 1437.5 L653.2 1436.4 L647.2 1435.4 L641.2 1434.3 L635.3 1433.3 L629.3 1432.2 L623.3 1431.2 L617.3 1430.1 L611.3 1428.9 L605.3 1427.7 L599.3 1426.5 L593.3 1425.3 L587.4 1424.1 L581.4 1422.9 L575.4 1421.7 L569.4 1420.6 L563.4 1419.4 L557.4 1418.2 L551.4 1417.0 L545.5 1415.8 L539.5 1414.6 L533.5 1413.4 L527.5 1412.2 L521.5 1411.0 L515.5 1409.9 L509.5 1408.8 L503.6 1407.8 L497.6 1406.7 L491.6 1405.7 L485.6 1404.7 L479.6 1403.6 L473.6 1402.6 L467.6 1401.6 L461.7 1400.7 L455.7 1399.8 L449.7 1398.9 L443.7 1398.0 L437.7 1397.1 L431.7 1396.2 L425.7 1395.3 L419.7 1394.4 L413.8 1393.5 L407.8 1392.6 L401.8 1391.7 L395.8 1390.8 L389.8 1389.9 L383.8 1389.0 L377.8 1388.1 L371.9 1387.2 L365.9 1386.1 L359.9 1385.1 L353.9 1384.0 L347.9 1383.0 L341.9 1382.0 L335.9 1380.9 L330.0 1379.8 L324.0 1378.7 L318.0 1377.3 L312.0 1375.8 L306.0 1374.3 L300.0 1372.9 L294.0 1371.8 L288.1 1370.7 L282.1 1369.1 L276.1 1367.0 L270.1 1364.4 L264.1 1361.1 L258.1 1357.4 L252.1 1353.4 L246.1 1349.1 L240.2 1344.6 L234.2 1340.0 L228.2 1335.3 L222.2 1330.3 L216.2 1325.0 L210.2 1319.2 L204.2 1313.2 L198.3 1307.3 L192.3 1301.8 L186.3 1296.6 L180.3 1291.5 Z" fill="#DB843D"/>
<path d="M183.3 1292.4 L189.3 1288.8 L195.3 1285.3 L201.4 1281.6 L207.4 1278.2 L213.4 1275.6 L219.4 1273.4 L225.4 1271.2 L231.5 1269.0 L237.5 1267.1 L243.5 1265.3 L249.5 1263.6 L255.6 1261.9 L261.6 1260.2 L267.6 1258.5 L273.6 1256.8 L279.6 1255.1 L285.7 1253.5 L291.7 1252.0 L297.7 1250.5 L303.7 1249.0 L309.7 1247.5 L315.8 1246.0 L321.8 1244.5 L327.8 1242.9 L333.8 1241.4 L339.8 1239.9 L345.9 1238.4 L351.9 1236.9 L357.9 1235.4 L363.9 1233.9 L369.9 1232.4 L376.0 1230.9 L382.0 1229.4 L388.0 1227.9 L394.0 1226.4 L400.1 1225.0 L406.1 1223.6 L412.1 1222.1 L418.1 1220.7 L424.1 1219.3 L430.2 1217.9 L436.2 1216.6 L442.2 1215.2 L448.2 1213.9 L454.2 1212.5 L460.3 1211.2 L466.3 1209.9 L472.3 1208.6 L478.3 1207.3 L484.3 1206.0 L490.4 1204.7 L496.4 1203.5 L502.4 1202.3 L508.4 1201.3 L514.5 1200.3 L520.5 1199.3 L526.5 1198.2 L532.5 1197.2 L538.5 1196.3 L544.6 1195.4 L550.6 1194.6 L556.6 1193.7 L562.6 1192.9 L568.6 1192.1 L574.7 1191.3 L580.7 1190.5 L586.7 1189.7 L592.7 1189.0 L598.7 1188.2 L604.8 1187.5 L610.8 1186.7 L616.8 1186.1 L622.8 1185.5 L628.8 1184.9 L634.9 1184.3 L640.9 1183.7 L646.9 1183.1 L652.9 1182.5 L659.0 1182.1 L665.0 1181.6 L671.0 1181.1 L677.0 1180.7 L683.0 1180.2 L689.1 1179.8 L695.1 1179.3 L701.1 1178.8 L701.1 1445.6 L695.1 1444.4 L689.1 1443.2 L683.1 1442.0 L677.2 1440.9 L671.2 1439.7 L665.2 1438.6 L659.2 1437.5 L653.2 1436.4 L647.2 1435.4 L641.2 1434.3 L635.3 1433.3 L629.3 1432.2 L623.3 1431.2 L617.3 1430.1 L611.3 1428.9 L605.3 1427.7 L599.3 1426.5 L593.3 1425.3 L587.4 1424.1 L581.4 1422.9 L575.4 1421.7 L569.4 1420.6 L563.4 1419.4 L557.4 1418.2 L551.4 1417.0 L545.5 1415.8 L539.5 1414.6 L533.5 1413.4 L527.5 1412.2 L521.5 1411.0 L515.5 1409.9 L509.5 1408.8 L503.6 1407.8 L497.6 1406.7 L491.6 1405.7 L485.6 1404.7 L479.6 1403.6 L473.6 1402.6 L467.6 1401.6 L461.7 1400.7 L455.7 1399.8 L449.7 1398.9 L443.7 1398.0 L437.7 1397.1 L431.7 1396.2 L425.7 1395.3 L419.7 1394.4 L413.8 1393.5 L407.8 1392.6 L401.8 1391.7 L395.8 1390.8 L389.8 1389.9 L383.8 1389.0 L377.8 1388.1 L371.9 1387.2 L365.9 1386.1 L359.9 1385.1 L353.9 1384.0 L347.9 1383.0 L341.9 1382.0 L335.9 1380.9 L330.0 1379.8 L324.0 1378.7 L318.0 1377.3 L312.0 1375.8 L306.0 1374.3 L300.0 1372.9 L294.0 1371.8 L288.1 1370.7 L282.1 1369.1 L276.1 1367.0 L270.1 1364.4 L264.1 1361.1 L258.1 1357.4 L252.1 1353.4 L246.1 1349.1 L240.2 1344.6 L234.2 1340.0 L228.2 1335.3 L222.2 1330.3 L216.2 1325.0 L210.2 1319.2 L204.2 1313.2 L198.3 1307.3 L192.3 1301.8 L186.3 1296.6 L180.3 1291.5 Z" fill="#4198AF"/>
<path d="M183.3 1292.4 L189.3 1288.8 L195.3 1285.3 L201.4 1281.6 L207.4 1278.2 L213.4 1275.6 L219.4 1273.4 L225.4 1271.2 L231.5 1269.0 L237.5 1267.1 L243.5 1265.3 L249.5 1263.6 L255.6 1261.9 L261.6 1260.2 L267.6 1258.5 L273.6 1256.8 L279.6 1255.1 L285.7 1253.5 L291.7 1252.0 L297.7 1250.5 L303.7 1249.0 L309.7 1247.5 L315.8 1246.0 L321.8 1244.5 L327.8 1242.9 L333.8 1241.4 L339.8 1239.9 L345.9 1238.4 L351.9 1236.9 L357.9 1235.4 L363.9 1233.9 L369.9 1232.4 L376.0 1230.9 L382.0 1229.4 L388.0 1227.9 L394.0 1226.4 L400.1 1225.0 L406.1 1223.6 L412.1 1222.1 L418.1 1220.7 L424.1 1219.3 L430.2 1217.9 L436.2 1216.6 L442.2 1215.2 L448.2 1213.9 L454.2 1212.5 L460.3 1211.2 L466.3 1209.9 L472.3 1208.6 L478.3 1207.3 L484.3 1206.0 L490.4 1204.7 L496.4 1203.5 L502.4 1202.3 L508.4 1201.3 L514.5 1200.3 L520.5 1199.3 L526.5 1198.2 L532.5 1197.2 L538.5 1196.3 L544.6 1195.4 L550.6 1194.6 L556.6 1193.7 L562.6 1192.9 L568.6 1192.1 L574.7 1191.3 L580.7 1190.5 L586.7 1189.7 L592.7 1189.0 L598.7 1188.2 L604.8 1187.5 L610.8 1186.7 L616.8 1186.1 L622.8 1185.5 L628.8 1184.9 L634.9 1184.3 L640.9 1183.7 L646.9 1183.1 L652.9 1182.5 L659.0 1182.1 L665.0 1181.6 L671.0 1181.1 L677.0 1180.7 L683.0 1180.2 L689.1 1179.8 L695.1 1179.3 L701.1 1178.8 L701.1 1346.1 L695.1 1345.6 L689.1 1345.1 L683.1 1344.6 L677.2 1344.1 L671.2 1343.6 L665.2 1343.1 L659.2 1342.7 L653.2 1342.2 L647.2 1341.8 L641.2 1341.3 L635.3 1340.9 L629.3 1340.4 L623.3 1340.0 L617.3 1339.5 L611.3 1339.1 L605.3 1338.6 L599.3 1338.1 L593.3 1337.6 L587.4 1337.1 L581.4 1336.6 L575.4 1336.1 L569.4 1335.6 L563.4 1335.1 L557.4 1334.5 L551.4 1334.0 L545.5 1333.4 L539.5 1332.9 L533.5 1332.4 L527.5 1332.0 L521.5 1331.5 L515.5 1331.1 L509.5 1330.6 L503.6 1330.2 L497.6 1329.8 L491.6 1329.4 L485.6 1329.0 L479.6 1328.6 L473.6 1328.2 L467.6 1327.8 L461.7 1327.3 L455.7 1326.9 L449.7 1326.4 L443.7 1325.9 L437.7 1325.5 L431.7 1325.0 L425.7 1324.6 L419.7 1324.3 L413.8 1323.9 L407.8 1323.5 L401.8 1323.2 L395.8 1322.8 L389.8 1322.4 L383.8 1322.0 L377.8 1321.5 L371.9 1321.0 L365.9 1320.6 L359.9 1320.1 L353.9 1319.6 L347.9 1319.1 L341.9 1318.6 L335.9 1318.0 L330.0 1317.4 L324.0 1316.9 L318.0 1316.3 L312.0 1315.7 L306.0 1315.1 L300.0 1314.4 L294.0 1313.7 L288.1 1312.9 L282.1 1312.1 L276.1 1311.2 L270.1 1310.3 L264.1 1309.4 L258.1 1308.5 L252.1 1307.6 L246.1 1306.7 L240.2 1305.8 L234.2 1304.8 L228.2 1303.6 L222.2 1302.4 L216.2 1301.3 L210.2 1300.0 L204.2 1298.7 L198.3 1297.1 L192.3 1295.3 L186.3 1293.4 L180.3 1291.5 Z" fill="#89A54E"/>
<path d="M183.3 1292.4 L189.3 1288.8 L195.3 1285.3 L201.4 1281.6 L207.4 1278.2 L213.4 1275.6 L219.4 1273.4 L225.4 1271.2 L231.5 1269.0 L237.5 1267.1 L243.5 1265.3 L249.5 1263.6 L255.6 1261.9 L261.6 1260.2 L267.6 1258.5 L273.6 1256.8 L279.6 1255.1 L285.7 1253.5 L291.7 1252.0 L297.7 1250.5 L303.7 1249.0 L309.7 1247.5 L315.8 1246.0 L321.8 1244.5 L327.8 1242.9 L333.8 1241.4 L339.8 1239.9 L345.9 1238.4 L351.9 1236.9 L357.9 1235.4 L363.9 1233.9 L369.9 1232.4 L376.0 1230.9 L382.0 1229.4 L388.0 1227.9 L394.0 1226.4 L400.1 1225.0 L406.1 1223.6 L412.1 1222.1 L418.1 1220.7 L424.1 1219.3 L430.2 1217.9 L436.2 1216.6 L442.2 1215.2 L448.2 1213.9 L454.2 1212.5 L460.3 1211.2 L466.3 1209.9 L472.3 1208.6 L478.3 1207.3 L484.3 1206.0 L490.4 1204.7 L496.4 1203.5 L502.4 1202.3 L508.4 1201.3 L514.5 1200.3 L520.5 1199.3 L526.5 1198.2 L532.5 1197.2 L538.5 1196.3 L544.6 1195.4 L550.6 1194.6 L556.6 1193.7 L562.6 1192.9 L568.6 1192.1 L574.7 1191.3 L580.7 1190.5 L586.7 1189.7 L592.7 1189.0 L598.7 1188.2 L604.8 1187.5 L610.8 1186.7 L616.8 1186.1 L622.8 1185.5 L628.8 1184.9 L634.9 1184.3 L640.9 1183.7 L646.9 1183.1 L652.9 1182.5 L659.0 1182.1 L665.0 1181.6 L671.0 1181.1 L677.0 1180.7 L683.0 1180.2 L689.1 1179.8 L695.1 1179.3 L701.1 1178.8 L701.1 1303.1 L695.1 1302.9 L689.1 1302.6 L683.1 1302.4 L677.2 1302.1 L671.2 1301.9 L665.2 1301.7 L659.2 1301.6 L653.2 1301.4 L647.2 1301.3 L641.2 1301.1 L635.3 1301.0 L629.3 1300.9 L623.3 1300.7 L617.3 1300.6 L611.3 1300.4 L605.3 1300.3 L599.3 1300.1 L593.3 1300.0 L587.4 1299.9 L581.4 1299.8 L575.4 1299.7 L569.4 1299.6 L563.4 1299.6 L557.4 1299.5 L551.4 1299.4 L545.5 1299.3 L539.5 1299.3 L533.5 1299.2 L527.5 1299.1 L521.5 1299.0 L515.5 1299.0 L509.5 1298.9 L503.6 1298.9 L497.6 1298.8 L491.6 1298.8 L485.6 1298.8 L479.6 1298.7 L473.6 1298.7 L467.6 1298.7 L461.7 1298.7 L455.7 1298.6 L449.7 1298.6 L443.7 1298.6 L437.7 1298.6 L431.7 1298.5 L425.7 1298.3 L419.7 1298.1 L413.8 1297.9 L407.8 1297.7 L401.8 1297.5 L395.8 1297.3 L389.8 1297.1 L383.8 1296.8 L377.8 1296.6 L371.9 1296.3 L365.9 1296.1 L359.9 1295.9 L353.9 1295.7 L347.9 1295.5 L341.9 1295.3 L335.9 1295.1 L330.0 1294.9 L324.0 1294.7 L318.0 1294.5 L312.0 1294.3 L306.0 1294.1 L300.0 1293.9 L294.0 1293.7 L288.1 1293.5 L282.1 1293.3 L276.1 1293.1 L270.1 1292.9 L264.1 1292.7 L258.1 1292.5 L252.1 1292.3 L246.1 1292.1 L240.2 1291.9 L234.2 1291.7 L228.2 1291.7 L222.2 1291.6 L216.2 1291.6 L210.2 1291.6 L204.2 1291.6 L198.3 1291.6 L192.3 1291.5 L186.3 1291.5 L180.3 1291.5 Z" fill="#AA4643"/>
<path d="M180.3 1291.5 H703.7" stroke="#868686" stroke-width="2.2" fill="none"/>
<path d="M262.1 1291.5 V1301.5" stroke="#868686" stroke-width="2.2" fill="none"/>
<path d="M343.9 1291.5 V1301.5" stroke="#868686" stroke-width="2.2" fill="none"/>
<path d="M425.7 1291.5 V1301.5" stroke="#868686" stroke-width="2.2" fill="none"/>
<path d="M507.5 1291.5 V1301.5" stroke="#868686" stroke-width="2.2" fill="none"/>
<path d="M589.3 1291.5 V1301.5" stroke="#868686" stroke-width="2.2" fill="none"/>
<path d="M671.1 1291.5 V1301.5" stroke="#868686" stroke-width="2.2" fill="none"/>
<path d="M180.3 1108.9 V1566.0" stroke="#868686" stroke-width="2.2" fill="none"/>
<path d="M170.3 1109.7 H180.3" stroke="#868686" stroke-width="2.2" fill="none"/>
<path d="M170.3 1200.6 H180.3" stroke="#868686" stroke-width="2.2" fill="none"/>
<path d="M170.3 1291.5 H180.3" stroke="#868686" stroke-width="2.2" fill="none"/>
<path d="M170.3 1382.6 H180.3" stroke="#868686" stroke-width="2.2" fill="none"/>
<path d="M170.3 1473.9 H180.3" stroke="#868686" stroke-width="2.2" fill="none"/>
<path d="M170.3 1565.2 H180.3" stroke="#868686" stroke-width="2.2" fill="none"/>
<text x="150.4" y="1119.3" font-size="27.6" text-anchor="end" textLength="64.5" lengthAdjust="spacingAndGlyphs">1000</text>
<text x="150.4" y="1210.2" font-size="27.6" text-anchor="end" textLength="49.0" lengthAdjust="spacingAndGlyphs">500</text>
<text x="150.4" y="1301.1" font-size="27.6" text-anchor="end" textLength="17.0" lengthAdjust="spacingAndGlyphs">0</text>
<text x="150.4" y="1392.2" font-size="27.6" text-anchor="end" textLength="58.3" lengthAdjust="spacingAndGlyphs">-500</text>
<text x="150.4" y="1483.5" font-size="27.6" text-anchor="end" textLength="74.0" lengthAdjust="spacingAndGlyphs">-1000</text>
<text x="150.4" y="1574.8" font-size="27.6" text-anchor="end" textLength="74.0" lengthAdjust="spacingAndGlyphs">-1500</text>
<text transform="translate(33.4 1336.0) rotate(-90)" font-size="27.6" text-anchor="middle" textLength="394.5" lengthAdjust="spacingAndGlyphs">Change in population at risk of</text>
<text transform="translate(71.5 1337.5) rotate(-90)" font-size="27.6" text-anchor="middle" textLength="206.5" lengthAdjust="spacingAndGlyphs">hunger [million]</text>
<path d="M182.2 1294.5 L188.2 1297.3 L194.2 1300.2 L200.1 1303.1 L206.1 1306.0 L212.1 1309.0 L218.1 1312.0 L224.0 1314.9 L230.0 1317.9 L236.0 1320.8 L241.9 1323.5 L247.9 1326.1 L253.9 1328.3 L259.9 1330.1 L265.8 1331.8 L271.8 1333.5 L277.8 1335.1 L283.8 1336.4 L289.7 1337.3 L295.7 1337.9 L301.7 1338.3 L307.6 1338.4 L313.6 1338.4 L319.6 1338.1 L325.6 1337.6 L331.5 1337.0 L337.5 1336.5 L343.5 1336.1 L349.5 1335.6 L355.4 1335.1 L361.4 1334.5 L367.4 1333.9 L373.3 1333.4 L379.3 1332.9 L385.3 1332.4 L391.3 1331.8 L397.2 1331.2 L403.2 1330.7 L409.2 1330.2 L415.2 1329.8 L421.1 1329.4 L427.1 1329.0 L433.1 1328.6 L439.0 1328.3 L445.0 1328.1 L451.0 1327.8 L457.0 1327.6 L462.9 1327.3 L468.9 1327.1 L474.9 1326.8 L480.9 1326.7 L486.8 1326.7 L492.8 1326.8 L498.8 1326.9 L504.7 1327.1 L510.7 1327.3 L516.7 1327.6 L522.7 1327.9 L528.6 1328.2 L534.6 1328.5 L540.6 1328.9 L546.6 1329.3 L552.5 1329.8 L558.5 1330.2 L564.5 1330.7 L570.4 1331.2 L576.4 1331.7 L582.4 1332.3 L588.4 1332.9 L594.3 1333.5 L600.3 1334.1 L606.3 1334.8 L612.3 1335.5 L618.2 1336.3 L624.2 1337.0 L630.2 1337.8 L636.1 1338.5 L642.1 1339.3 L648.1 1340.0 L654.1 1340.8 L660.0 1341.5 L666.0 1342.3 L672.0 1343.1 L677.9 1343.9 L683.9 1344.7 L689.9 1345.5 L695.9 1346.3" stroke="#FFFF00" stroke-width="5.5" fill="none" stroke-linecap="round" stroke-linejoin="round"/>
<text x="182.2" y="1615.8" font-size="27.6" text-anchor="middle" textLength="63.5" lengthAdjust="spacingAndGlyphs">2005</text>
<text x="264.0" y="1615.8" font-size="27.6" text-anchor="middle" textLength="63.5" lengthAdjust="spacingAndGlyphs">2020</text>
<text x="345.8" y="1615.8" font-size="27.6" text-anchor="middle" textLength="63.5" lengthAdjust="spacingAndGlyphs">2035</text>
<text x="427.6" y="1615.8" font-size="27.6" text-anchor="middle" textLength="63.5" lengthAdjust="spacingAndGlyphs">2050</text>
<text x="509.4" y="1615.8" font-size="27.6" text-anchor="middle" textLength="63.5" lengthAdjust="spacingAndGlyphs">2065</text>
<text x="591.2" y="1615.8" font-size="27.6" text-anchor="middle" textLength="63.5" lengthAdjust="spacingAndGlyphs">2080</text>
<text x="673.0" y="1615.8" font-size="27.6" text-anchor="middle" textLength="63.5" lengthAdjust="spacingAndGlyphs">2095</text>
<text x="194.9" y="1150.5" font-size="39.2" textLength="121.0" lengthAdjust="spacingAndGlyphs">c) SSP3</text>
</g>
<g id="panel-d">
<path d="M913.2 206.2 L919.2 203.1 L925.2 200.0 L931.2 197.0 L937.3 193.9 L943.3 190.9 L949.3 188.0 L955.3 185.4 L961.3 183.1 L967.4 180.9 L973.4 178.9 L979.4 177.0 L985.4 175.3 L991.4 173.7 L997.4 172.1 L1003.5 170.7 L1009.5 169.3 L1015.5 168.0 L1021.5 166.7 L1027.5 165.4 L1033.5 164.2 L1039.5 163.0 L1045.6 161.8 L1051.6 160.6 L1057.6 159.5 L1063.6 158.5 L1069.6 157.4 L1075.7 156.4 L1081.7 155.3 L1087.7 154.3 L1093.7 153.2 L1099.7 152.2 L1105.7 151.1 L1111.8 150.1 L1117.8 149.0 L1123.8 147.9 L1129.8 146.7 L1135.8 145.6 L1141.8 144.4 L1147.8 143.4 L1153.9 142.3 L1159.9 141.3 L1165.9 140.3 L1171.9 139.3 L1177.9 138.3 L1183.9 137.3 L1190.0 136.3 L1196.0 135.3 L1202.0 134.2 L1208.0 133.1 L1214.0 132.0 L1220.0 131.0 L1226.1 130.0 L1232.1 129.2 L1238.1 128.4 L1244.1 127.7 L1250.1 126.9 L1256.2 126.2 L1262.2 125.4 L1268.2 124.7 L1274.2 123.9 L1280.2 123.2 L1286.2 122.4 L1292.2 121.7 L1298.3 121.1 L1304.3 120.5 L1310.3 119.9 L1316.3 119.3 L1322.3 118.7 L1328.3 118.2 L1334.4 117.7 L1340.4 117.2 L1346.4 116.8 L1352.4 116.3 L1358.4 115.9 L1364.4 115.5 L1370.5 115.1 L1376.5 114.8 L1382.5 114.4 L1388.5 114.1 L1394.5 113.9 L1400.5 113.7 L1406.6 113.5 L1412.6 113.3 L1418.6 113.1 L1418.6 391.9 L1412.6 390.8 L1406.6 389.7 L1400.5 388.6 L1394.5 387.5 L1388.5 386.4 L1382.5 385.3 L1376.5 384.2 L1370.5 383.2 L1364.4 382.1 L1358.4 381.0 L1352.4 380.0 L1346.4 379.0 L1340.4 377.9 L1334.4 376.9 L1328.3 375.8 L1322.3 374.7 L1316.3 373.7 L1310.3 372.6 L1304.3 371.5 L1298.3 370.4 L1292.2 369.3 L1286.2 368.2 L1280.2 367.1 L1274.2 365.9 L1268.2 364.8 L1262.2 363.7 L1256.2 362.6 L1250.1 361.5 L1244.1 360.4 L1238.1 359.3 L1232.1 358.2 L1226.1 357.0 L1220.0 355.9 L1214.0 354.7 L1208.0 353.6 L1202.0 352.5 L1196.0 351.4 L1190.0 350.5 L1183.9 349.5 L1177.9 348.6 L1171.9 347.7 L1165.9 346.8 L1159.9 345.9 L1153.9 345.0 L1147.8 344.1 L1141.8 343.1 L1135.8 342.0 L1129.8 341.0 L1123.8 339.9 L1117.8 338.6 L1111.8 337.3 L1105.7 335.9 L1099.7 334.5 L1093.7 333.0 L1087.7 331.4 L1081.7 329.7 L1075.7 327.9 L1069.6 326.0 L1063.6 323.8 L1057.6 321.5 L1051.6 319.1 L1045.6 316.4 L1039.5 313.3 L1033.5 310.2 L1027.5 306.8 L1021.5 303.2 L1015.5 299.1 L1009.5 295.0 L1003.5 290.7 L997.4 286.4 L991.4 282.0 L985.4 277.5 L979.4 272.8 L973.4 267.8 L967.4 262.7 L961.3 257.4 L955.3 252.0 L949.3 246.4 L943.3 240.6 L937.3 234.4 L931.2 227.9 L925.2 220.9 L919.2 213.6 L913.2 206.2 Z" fill="#F79646"/>
<path d="M913.2 206.2 L919.2 203.1 L925.2 200.0 L931.2 197.0 L937.3 193.9 L943.3 190.9 L949.3 188.0 L955.3 185.4 L961.3 183.1 L967.4 180.9 L973.4 178.9 L979.4 177.0 L985.4 175.3 L991.4 173.7 L997.4 172.1 L1003.5 170.7 L1009.5 169.3 L1015.5 168.0 L1021.5 166.7 L1027.5 165.4 L1033.5 164.2 L1039.5 163.0 L1045.6 161.8 L1051.6 160.6 L1057.6 159.5 L1063.6 158.5 L1069.6 157.4 L1075.7 156.4 L1081.7 155.3 L1087.7 154.3 L1093.7 153.2 L1099.7 152.2 L1105.7 151.1 L1111.8 150.1 L1117.8 149.0 L1123.8 147.9 L1129.8 146.7 L1135.8 145.6 L1141.8 144.4 L1147.8 143.4 L1153.9 142.3 L1159.9 141.3 L1165.9 140.3 L1171.9 139.3 L1177.9 138.3 L1183.9 137.3 L1190.0 136.3 L1196.0 135.3 L1202.0 134.2 L1208.0 133.1 L1214.0 132.0 L1220.0 131.0 L1226.1 130.0 L1232.1 129.2 L1238.1 128.4 L1244.1 127.7 L1250.1 126.9 L1256.2 126.2 L1262.2 125.4 L1268.2 124.7 L1274.2 123.9 L1280.2 123.2 L1286.2 122.4 L1292.2 121.7 L1298.3 121.1 L1304.3 120.5 L1310.3 119.9 L1316.3 119.3 L1322.3 118.7 L1328.3 118.2 L1334.4 117.7 L1340.4 117.2 L1346.4 116.8 L1352.4 116.3 L1358.4 115.9 L1364.4 115.5 L1370.5 115.1 L1376.5 114.8 L1382.5 114.4 L1388.5 114.1 L1394.5 113.9 L1400.5 113.7 L1406.6 113.5 L1412.6 113.3 L1418.6 113.1 L1418.6 370.2 L1412.6 369.5 L1406.6 368.7 L1400.5 368.0 L1394.5 367.2 L1388.5 366.5 L1382.5 365.6 L1376.5 364.7 L1370.5 363.8 L1364.4 362.9 L1358.4 362.0 L1352.4 361.1 L1346.4 360.2 L1340.4 359.3 L1334.4 358.5 L1328.3 357.6 L1322.3 356.8 L1316.3 355.9 L1310.3 355.1 L1304.3 354.3 L1298.3 353.6 L1292.2 352.7 L1286.2 351.9 L1280.2 351.0 L1274.2 350.1 L1268.2 349.2 L1262.2 348.3 L1256.2 347.4 L1250.1 346.5 L1244.1 345.6 L1238.1 344.8 L1232.1 344.0 L1226.1 343.2 L1220.0 342.4 L1214.0 341.4 L1208.0 340.3 L1202.0 339.1 L1196.0 338.1 L1190.0 337.2 L1183.9 336.4 L1177.9 335.6 L1171.9 334.9 L1165.9 334.1 L1159.9 333.4 L1153.9 332.6 L1147.8 331.9 L1141.8 331.1 L1135.8 330.4 L1129.8 329.6 L1123.8 328.8 L1117.8 327.8 L1111.8 326.8 L1105.7 325.8 L1099.7 324.7 L1093.7 323.4 L1087.7 322.1 L1081.7 320.7 L1075.7 319.3 L1069.6 317.6 L1063.6 315.7 L1057.6 313.7 L1051.6 311.6 L1045.6 309.2 L1039.5 306.5 L1033.5 303.6 L1027.5 300.5 L1021.5 297.1 L1015.5 293.2 L1009.5 289.2 L1003.5 285.3 L997.4 281.5 L991.4 277.9 L985.4 274.3 L979.4 270.1 L973.4 265.3 L967.4 260.3 L961.3 255.2 L955.3 250.0 L949.3 244.6 L943.3 238.9 L937.3 232.9 L931.2 226.5 L925.2 219.9 L919.2 213.1 L913.2 206.2 Z" fill="#DB843D"/>
<path d="M917.2 207.2 L923.2 204.1 L929.1 201.0 L935.1 198.0 L941.1 195.1 L947.0 192.5 L953.0 190.0 L959.0 187.5 L965.0 185.1 L970.9 182.9 L976.9 180.9 L982.9 178.9 L988.8 177.0 L994.8 175.2 L1000.8 173.6 L1006.7 172.0 L1012.7 170.4 L1018.7 168.8 L1024.6 167.4 L1030.6 166.0 L1036.6 164.6 L1042.5 163.2 L1048.5 161.9 L1054.5 160.5 L1060.5 159.2 L1066.4 158.0 L1072.4 156.9 L1078.4 155.9 L1084.3 154.9 L1090.3 153.9 L1096.3 152.9 L1102.2 151.8 L1108.2 150.8 L1114.2 149.7 L1120.1 148.6 L1126.1 147.4 L1132.1 146.3 L1138.1 145.1 L1144.0 144.0 L1150.0 143.0 L1156.0 142.0 L1161.9 141.0 L1167.9 140.0 L1173.9 139.0 L1179.8 138.0 L1185.8 137.0 L1191.8 136.0 L1197.7 135.0 L1203.7 133.9 L1209.7 132.8 L1215.7 131.8 L1221.6 130.7 L1227.6 129.8 L1233.6 129.0 L1239.5 128.2 L1245.5 127.5 L1251.5 126.7 L1257.4 126.0 L1263.4 125.3 L1269.4 124.5 L1275.3 123.8 L1281.3 123.0 L1287.3 122.3 L1293.2 121.6 L1299.2 121.0 L1305.2 120.4 L1311.2 119.8 L1317.1 119.2 L1323.1 118.7 L1329.1 118.1 L1335.0 117.7 L1341.0 117.2 L1347.0 116.7 L1352.9 116.3 L1358.9 115.8 L1364.9 115.5 L1370.8 115.1 L1376.8 114.7 L1382.8 114.4 L1388.8 114.1 L1394.7 113.9 L1400.7 113.7 L1406.7 113.5 L1412.6 113.3 L1418.6 113.1 L1418.6 370.2 L1412.6 369.5 L1406.6 368.7 L1400.5 368.0 L1394.5 367.2 L1388.5 366.5 L1382.5 365.6 L1376.5 364.7 L1370.5 363.8 L1364.4 362.9 L1358.4 362.0 L1352.4 361.1 L1346.4 360.2 L1340.4 359.3 L1334.4 358.5 L1328.3 357.6 L1322.3 356.8 L1316.3 355.9 L1310.3 355.1 L1304.3 354.3 L1298.3 353.6 L1292.2 352.7 L1286.2 351.9 L1280.2 351.0 L1274.2 350.1 L1268.2 349.2 L1262.2 348.3 L1256.2 347.4 L1250.1 346.5 L1244.1 345.6 L1238.1 344.8 L1232.1 344.0 L1226.1 343.2 L1220.0 342.4 L1214.0 341.4 L1208.0 340.3 L1202.0 339.1 L1196.0 338.1 L1190.0 337.2 L1183.9 336.4 L1177.9 335.6 L1171.9 334.9 L1165.9 334.1 L1159.9 333.4 L1153.9 332.6 L1147.8 331.9 L1141.8 331.1 L1135.8 330.4 L1129.8 329.6 L1123.8 328.8 L1117.8 327.8 L1111.8 326.8 L1105.7 325.8 L1099.7 324.7 L1093.7 323.4 L1087.7 322.1 L1081.7 320.7 L1075.7 319.3 L1069.6 317.6 L1063.6 315.7 L1057.6 313.7 L1051.6 311.6 L1045.6 309.2 L1039.5 306.5 L1033.5 303.6 L1027.5 300.5 L1021.5 297.1 L1015.5 293.2 L1009.5 289.2 L1003.5 285.3 L997.4 281.5 L991.4 277.9 L985.4 274.3 L979.4 270.1 L973.4 265.3 L967.4 260.3 L961.3 255.2 L955.3 250.0 L949.3 244.6 L943.3 238.9 L937.3 232.9 L931.2 226.5 L925.2 219.9 L919.2 213.1 L913.2 206.2 Z" fill="#4198AF"/>
<path d="M917.2 207.2 L923.2 204.1 L929.1 201.0 L935.1 198.0 L941.1 195.1 L947.0 192.5 L953.0 190.0 L959.0 187.5 L965.0 185.1 L970.9 182.9 L976.9 180.9 L982.9 178.9 L988.8 177.0 L994.8 175.2 L1000.8 173.6 L1006.7 172.0 L1012.7 170.4 L1018.7 168.8 L1024.6 167.4 L1030.6 166.0 L1036.6 164.6 L1042.5 163.2 L1048.5 161.9 L1054.5 160.5 L1060.5 159.2 L1066.4 158.0 L1072.4 156.9 L1078.4 155.9 L1084.3 154.9 L1090.3 153.9 L1096.3 152.9 L1102.2 151.8 L1108.2 150.8 L1114.2 149.7 L1120.1 148.6 L1126.1 147.4 L1132.1 146.3 L1138.1 145.1 L1144.0 144.0 L1150.0 143.0 L1156.0 142.0 L1161.9 141.0 L1167.9 140.0 L1173.9 139.0 L1179.8 138.0 L1185.8 137.0 L1191.8 136.0 L1197.7 135.0 L1203.7 133.9 L1209.7 132.8 L1215.7 131.8 L1221.6 130.7 L1227.6 129.8 L1233.6 129.0 L1239.5 128.2 L1245.5 127.5 L1251.5 126.7 L1257.4 126.0 L1263.4 125.3 L1269.4 124.5 L1275.3 123.8 L1281.3 123.0 L1287.3 122.3 L1293.2 121.6 L1299.2 121.0 L1305.2 120.4 L1311.2 119.8 L1317.1 119.2 L1323.1 118.7 L1329.1 118.1 L1335.0 117.7 L1341.0 117.2 L1347.0 116.7 L1352.9 116.3 L1358.9 115.8 L1364.9 115.5 L1370.8 115.1 L1376.8 114.7 L1382.8 114.4 L1388.8 114.1 L1394.7 113.9 L1400.7 113.7 L1406.7 113.5 L1412.6 113.3 L1418.6 113.1 L1418.6 265.0 L1412.6 264.7 L1406.6 264.3 L1400.5 264.0 L1394.5 263.7 L1388.5 263.4 L1382.5 263.1 L1376.5 262.8 L1370.5 262.5 L1364.4 262.2 L1358.4 261.9 L1352.4 261.6 L1346.4 261.3 L1340.4 261.0 L1334.4 260.7 L1328.3 260.4 L1322.3 260.1 L1316.3 259.8 L1310.3 259.5 L1304.3 259.2 L1298.3 258.8 L1292.2 258.5 L1286.2 258.2 L1280.2 257.9 L1274.2 257.6 L1268.2 257.3 L1262.2 257.0 L1256.2 256.7 L1250.1 256.4 L1244.1 256.1 L1238.1 255.8 L1232.1 255.5 L1226.1 255.2 L1220.0 254.8 L1214.0 254.4 L1208.0 253.9 L1202.0 253.5 L1196.0 253.0 L1190.0 252.6 L1183.9 252.2 L1177.9 251.8 L1171.9 251.4 L1165.9 250.9 L1159.9 250.5 L1153.9 250.1 L1147.8 249.7 L1141.8 249.3 L1135.8 248.9 L1129.8 248.4 L1123.8 248.0 L1117.8 247.5 L1111.8 247.0 L1105.7 246.4 L1099.7 245.8 L1093.7 245.2 L1087.7 244.5 L1081.7 243.7 L1075.7 243.0 L1069.6 242.2 L1063.6 241.4 L1057.6 240.5 L1051.6 239.6 L1045.6 238.7 L1039.5 237.7 L1033.5 236.7 L1027.5 235.6 L1021.5 234.5 L1015.5 233.4 L1009.5 232.2 L1003.5 230.9 L997.4 229.6 L991.4 228.3 L985.4 227.0 L979.4 225.7 L973.4 224.4 L967.4 223.0 L961.3 221.6 L955.3 220.1 L949.3 218.4 L943.3 216.5 L937.3 214.5 L931.2 212.4 L925.2 210.3 L919.2 208.3 L913.2 206.2 Z" fill="#89A54E"/>
<path d="M917.2 207.2 L923.2 204.1 L929.1 201.0 L935.1 198.0 L941.1 195.1 L947.0 192.5 L953.0 190.0 L959.0 187.5 L965.0 185.1 L970.9 182.9 L976.9 180.9 L982.9 178.9 L988.8 177.0 L994.8 175.2 L1000.8 173.6 L1006.7 172.0 L1012.7 170.4 L1018.7 168.8 L1024.6 167.4 L1030.6 166.0 L1036.6 164.6 L1042.5 163.2 L1048.5 161.9 L1054.5 160.5 L1060.5 159.2 L1066.4 158.0 L1072.4 156.9 L1078.4 155.9 L1084.3 154.9 L1090.3 153.9 L1096.3 152.9 L1102.2 151.8 L1108.2 150.8 L1114.2 149.7 L1120.1 148.6 L1126.1 147.4 L1132.1 146.3 L1138.1 145.1 L1144.0 144.0 L1150.0 143.0 L1156.0 142.0 L1161.9 141.0 L1167.9 140.0 L1173.9 139.0 L1179.8 138.0 L1185.8 137.0 L1191.8 136.0 L1197.7 135.0 L1203.7 133.9 L1209.7 132.8 L1215.7 131.8 L1221.6 130.7 L1227.6 129.8 L1233.6 129.0 L1239.5 128.2 L1245.5 127.5 L1251.5 126.7 L1257.4 126.0 L1263.4 125.3 L1269.4 124.5 L1275.3 123.8 L1281.3 123.0 L1287.3 122.3 L1293.2 121.6 L1299.2 121.0 L1305.2 120.4 L1311.2 119.8 L1317.1 119.2 L1323.1 118.7 L1329.1 118.1 L1335.0 117.7 L1341.0 117.2 L1347.0 116.7 L1352.9 116.3 L1358.9 115.8 L1364.9 115.5 L1370.8 115.1 L1376.8 114.7 L1382.8 114.4 L1388.8 114.1 L1394.7 113.9 L1400.7 113.7 L1406.7 113.5 L1412.6 113.3 L1418.6 113.1 L1418.6 215.6 L1412.6 215.4 L1406.6 215.2 L1400.5 215.0 L1394.5 214.9 L1388.5 214.7 L1382.5 214.5 L1376.5 214.3 L1370.5 214.1 L1364.4 213.9 L1358.4 213.7 L1352.4 213.6 L1346.4 213.4 L1340.4 213.3 L1334.4 213.1 L1328.3 213.0 L1322.3 212.8 L1316.3 212.7 L1310.3 212.5 L1304.3 212.4 L1298.3 212.2 L1292.2 212.1 L1286.2 211.9 L1280.2 211.8 L1274.2 211.7 L1268.2 211.6 L1262.2 211.4 L1256.2 211.3 L1250.1 211.2 L1244.1 211.1 L1238.1 211.0 L1232.1 210.8 L1226.1 210.7 L1220.0 210.6 L1214.0 210.4 L1208.0 210.3 L1202.0 210.2 L1196.0 210.0 L1190.0 209.9 L1183.9 209.7 L1177.9 209.6 L1171.9 209.5 L1165.9 209.3 L1159.9 209.2 L1153.9 209.0 L1147.8 208.9 L1141.8 208.7 L1135.8 208.6 L1129.8 208.4 L1123.8 208.2 L1117.8 208.0 L1111.8 207.8 L1105.7 207.5 L1099.7 207.3 L1093.7 207.1 L1087.7 207.0 L1081.7 206.8 L1075.7 206.7 L1069.6 206.6 L1063.6 206.5 L1057.6 206.5 L1051.6 206.4 L1045.6 206.4 L1039.5 206.4 L1033.5 206.4 L1027.5 206.4 L1021.5 206.4 L1015.5 206.4 L1009.5 206.4 L1003.5 206.4 L997.4 206.4 L991.4 206.3 L985.4 206.3 L979.4 206.3 L973.4 206.3 L967.4 206.3 L961.3 206.3 L955.3 206.3 L949.3 206.3 L943.3 206.3 L937.3 206.2 L931.2 206.2 L925.2 206.2 L919.2 206.2 L913.2 206.2 Z" fill="#AA4643"/>
<path d="M913.2 206.2 H1420.8" stroke="#868686" stroke-width="2.2" fill="none"/>
<path d="M992.6 206.2 V216.2" stroke="#868686" stroke-width="2.2" fill="none"/>
<path d="M1071.9 206.2 V216.2" stroke="#868686" stroke-width="2.2" fill="none"/>
<path d="M1151.3 206.2 V216.2" stroke="#868686" stroke-width="2.2" fill="none"/>
<path d="M1230.6 206.2 V216.2" stroke="#868686" stroke-width="2.2" fill="none"/>
<path d="M1310.0 206.2 V216.2" stroke="#868686" stroke-width="2.2" fill="none"/>
<path d="M1389.4 206.2 V216.2" stroke="#868686" stroke-width="2.2" fill="none"/>
<path d="M913.2 23.1 V480.4" stroke="#868686" stroke-width="2.2" fill="none"/>
<path d="M903.2 23.9 H913.2" stroke="#868686" stroke-width="2.2" fill="none"/>
<path d="M903.2 115.0 H913.2" stroke="#868686" stroke-width="2.2" fill="none"/>
<path d="M903.2 206.2 H913.2" stroke="#868686" stroke-width="2.2" fill="none"/>
<path d="M903.2 297.3 H913.2" stroke="#868686" stroke-width="2.2" fill="none"/>
<path d="M903.2 388.4 H913.2" stroke="#868686" stroke-width="2.2" fill="none"/>
<path d="M903.2 479.6 H913.2" stroke="#868686" stroke-width="2.2" fill="none"/>
<text x="884.4" y="33.5" font-size="27.6" text-anchor="end" textLength="64.5" lengthAdjust="spacingAndGlyphs">1000</text>
<text x="884.4" y="124.6" font-size="27.6" text-anchor="end" textLength="49.0" lengthAdjust="spacingAndGlyphs">500</text>
<text x="884.4" y="215.8" font-size="27.6" text-anchor="end" textLength="17.0" lengthAdjust="spacingAndGlyphs">0</text>
<text x="884.4" y="306.9" font-size="27.6" text-anchor="end" textLength="58.3" lengthAdjust="spacingAndGlyphs">-500</text>
<text x="884.4" y="398.0" font-size="27.6" text-anchor="end" textLength="74.0" lengthAdjust="spacingAndGlyphs">-1000</text>
<text x="884.4" y="489.2" font-size="27.6" text-anchor="end" textLength="74.0" lengthAdjust="spacingAndGlyphs">-1500</text>
<text transform="translate(765.9 249.3) rotate(-90)" font-size="27.6" text-anchor="middle" textLength="394.5" lengthAdjust="spacingAndGlyphs">Change in population at risk of</text>
<text transform="translate(803.8 250.5) rotate(-90)" font-size="27.6" text-anchor="middle" textLength="206.5" lengthAdjust="spacingAndGlyphs">hunger [million]</text>
<path d="M915.0 209.9 L921.0 213.4 L927.0 216.9 L933.0 220.3 L938.9 223.6 L944.9 226.9 L950.9 230.2 L956.9 233.5 L962.9 237.0 L968.9 240.6 L974.8 244.3 L980.8 247.8 L986.8 250.8 L992.8 253.5 L998.8 256.0 L1004.8 258.6 L1010.8 261.0 L1016.7 263.4 L1022.7 265.5 L1028.7 267.4 L1034.7 269.0 L1040.7 270.3 L1046.7 271.4 L1052.7 272.4 L1058.6 273.2 L1064.6 274.0 L1070.6 274.7 L1076.6 275.3 L1082.6 275.8 L1088.6 276.2 L1094.6 276.6 L1100.5 276.8 L1106.5 277.0 L1112.5 277.1 L1118.5 277.2 L1124.5 277.2 L1130.5 277.1 L1136.5 277.0 L1142.4 276.9 L1148.4 276.8 L1154.4 276.8 L1160.4 276.7 L1166.4 276.7 L1172.4 276.6 L1178.4 276.6 L1184.3 276.5 L1190.3 276.5 L1196.3 276.4 L1202.3 276.4 L1208.3 276.4 L1214.3 276.5 L1220.3 276.5 L1226.2 276.6 L1232.2 276.6 L1238.2 276.6 L1244.2 276.7 L1250.2 276.8 L1256.2 277.1 L1262.2 277.5 L1268.1 277.8 L1274.1 278.2 L1280.1 278.5 L1286.1 278.9 L1292.1 279.3 L1298.1 279.7 L1304.1 280.2 L1310.0 280.6 L1316.0 281.1 L1322.0 281.5 L1328.0 282.0 L1334.0 282.4 L1340.0 282.9 L1346.0 283.3 L1351.9 283.8 L1357.9 284.3 L1363.9 284.9 L1369.9 285.5 L1375.9 286.1 L1381.9 286.7 L1387.9 287.3 L1393.8 287.9 L1399.8 288.6 L1405.8 289.2 L1411.8 289.9" stroke="#FFFF00" stroke-width="5.5" fill="none" stroke-linecap="round" stroke-linejoin="round"/>
<text x="915.1" y="529.6" font-size="27.6" text-anchor="middle" textLength="63.5" lengthAdjust="spacingAndGlyphs">2005</text>
<text x="994.5" y="529.6" font-size="27.6" text-anchor="middle" textLength="63.5" lengthAdjust="spacingAndGlyphs">2020</text>
<text x="1073.8" y="529.6" font-size="27.6" text-anchor="middle" textLength="63.5" lengthAdjust="spacingAndGlyphs">2035</text>
<text x="1153.2" y="529.6" font-size="27.6" text-anchor="middle" textLength="63.5" lengthAdjust="spacingAndGlyphs">2050</text>
<text x="1232.5" y="529.6" font-size="27.6" text-anchor="middle" textLength="63.5" lengthAdjust="spacingAndGlyphs">2065</text>
<text x="1311.9" y="529.6" font-size="27.6" text-anchor="middle" textLength="63.5" lengthAdjust="spacingAndGlyphs">2080</text>
<text x="1391.3" y="529.6" font-size="27.6" text-anchor="middle" textLength="63.5" lengthAdjust="spacingAndGlyphs">2095</text>
<text x="929.3" y="58.4" font-size="39.2" textLength="125.5" lengthAdjust="spacingAndGlyphs">d) SSP4</text>
</g>
<g id="panel-e">
<path d="M911.1 747.8 L917.1 744.6 L923.1 741.5 L929.1 738.5 L935.1 735.7 L941.1 733.0 L947.1 730.6 L953.1 728.3 L959.1 726.3 L965.1 724.5 L971.1 722.9 L977.1 721.5 L983.1 720.4 L989.1 719.4 L995.1 718.5 L1001.1 717.9 L1007.1 717.3 L1013.1 716.9 L1019.1 716.6 L1025.1 716.4 L1031.1 716.4 L1037.1 716.4 L1043.1 716.5 L1049.1 716.7 L1055.1 716.9 L1061.1 717.2 L1067.1 717.5 L1073.1 717.8 L1079.1 718.0 L1085.1 718.2 L1091.1 718.3 L1097.1 718.4 L1103.1 718.5 L1109.1 718.6 L1115.1 718.6 L1121.1 718.7 L1127.1 718.7 L1133.1 718.7 L1139.1 718.7 L1145.1 718.7 L1151.1 718.7 L1157.1 718.7 L1163.0 718.7 L1169.0 718.7 L1175.0 718.7 L1181.0 718.7 L1187.0 718.7 L1193.0 718.7 L1199.0 718.7 L1205.0 718.7 L1211.0 718.7 L1217.0 718.7 L1223.0 718.7 L1229.0 718.7 L1235.0 718.7 L1241.0 718.7 L1247.0 718.7 L1253.0 718.7 L1259.0 718.7 L1265.0 718.7 L1271.0 718.7 L1277.0 718.7 L1283.0 718.7 L1289.0 718.7 L1295.0 718.7 L1301.0 718.7 L1307.0 718.7 L1313.0 718.7 L1319.0 718.7 L1325.0 718.7 L1331.0 718.7 L1337.0 718.7 L1343.0 718.7 L1349.0 718.7 L1355.0 718.7 L1361.0 718.7 L1367.0 718.7 L1373.0 718.7 L1379.0 718.7 L1385.0 718.7 L1391.0 718.7 L1397.0 718.7 L1403.0 718.7 L1409.0 718.7 L1415.0 718.7 L1415.0 930.7 L1409.0 930.7 L1403.0 930.7 L1397.0 930.6 L1391.0 930.6 L1385.0 930.6 L1379.0 930.6 L1373.0 930.6 L1367.0 930.5 L1361.0 930.5 L1355.0 930.5 L1349.0 930.5 L1343.0 930.5 L1337.0 930.4 L1331.0 930.4 L1325.0 930.4 L1319.0 930.4 L1313.0 930.4 L1307.0 930.3 L1301.0 930.3 L1295.0 930.3 L1289.0 930.3 L1283.0 930.3 L1277.0 930.2 L1271.0 930.2 L1265.0 930.2 L1259.0 930.2 L1253.0 930.2 L1247.0 930.1 L1241.0 930.1 L1235.0 930.1 L1229.0 930.1 L1223.0 930.1 L1217.0 930.0 L1211.0 930.0 L1205.0 930.0 L1199.0 930.0 L1193.0 929.9 L1187.0 929.9 L1181.0 929.9 L1175.0 929.8 L1169.0 929.7 L1163.0 929.6 L1157.1 929.4 L1151.1 929.3 L1145.1 929.1 L1139.1 929.0 L1133.1 928.8 L1127.1 928.6 L1121.1 928.3 L1115.1 928.0 L1109.1 927.5 L1103.1 926.9 L1097.1 926.2 L1091.1 925.3 L1085.1 924.2 L1079.1 922.8 L1073.1 921.1 L1067.1 919.0 L1061.1 916.5 L1055.1 913.5 L1049.1 909.9 L1043.1 905.7 L1037.1 900.9 L1031.1 895.7 L1025.1 890.0 L1019.1 884.1 L1013.1 878.1 L1007.1 872.0 L1001.1 865.8 L995.1 859.4 L989.1 852.9 L983.1 846.2 L977.1 839.2 L971.1 832.0 L965.1 824.6 L959.1 816.8 L953.1 808.7 L947.1 800.4 L941.1 791.8 L935.1 783.0 L929.1 774.2 L923.1 765.4 L917.1 756.6 L911.1 747.8 Z" fill="#F79646"/>
<path d="M911.1 747.8 L917.1 744.6 L923.1 741.5 L929.1 738.5 L935.1 735.7 L941.1 733.0 L947.1 730.6 L953.1 728.3 L959.1 726.3 L965.1 724.5 L971.1 722.9 L977.1 721.5 L983.1 720.4 L989.1 719.4 L995.1 718.5 L1001.1 717.9 L1007.1 717.3 L1013.1 716.9 L1019.1 716.6 L1025.1 716.4 L1031.1 716.4 L1037.1 716.4 L1043.1 716.5 L1049.1 716.7 L1055.1 716.9 L1061.1 717.2 L1067.1 717.5 L1073.1 717.8 L1079.1 718.0 L1085.1 718.2 L1091.1 718.3 L1097.1 718.4 L1103.1 718.5 L1109.1 718.6 L1115.1 718.6 L1121.1 718.7 L1127.1 718.7 L1133.1 718.7 L1139.1 718.7 L1145.1 718.7 L1151.1 718.7 L1157.1 718.7 L1163.0 718.7 L1169.0 718.7 L1175.0 718.7 L1181.0 718.7 L1187.0 718.7 L1193.0 718.7 L1199.0 718.7 L1205.0 718.7 L1211.0 718.7 L1217.0 718.7 L1223.0 718.7 L1229.0 718.7 L1235.0 718.7 L1241.0 718.7 L1247.0 718.7 L1253.0 718.7 L1259.0 718.7 L1265.0 718.7 L1271.0 718.7 L1277.0 718.7 L1283.0 718.7 L1289.0 718.7 L1295.0 718.7 L1301.0 718.7 L1307.0 718.7 L1313.0 718.7 L1319.0 718.7 L1325.0 718.7 L1331.0 718.7 L1337.0 718.7 L1343.0 718.7 L1349.0 718.7 L1355.0 718.7 L1361.0 718.7 L1367.0 718.7 L1373.0 718.7 L1379.0 718.7 L1385.0 718.7 L1391.0 718.7 L1397.0 718.7 L1403.0 718.7 L1409.0 718.7 L1415.0 718.7 L1415.0 919.8 L1409.0 919.8 L1403.0 919.8 L1397.0 919.8 L1391.0 919.8 L1385.0 919.8 L1379.0 919.8 L1373.0 919.8 L1367.0 919.8 L1361.0 919.8 L1355.0 919.8 L1349.0 919.8 L1343.0 919.8 L1337.0 919.8 L1331.0 919.8 L1325.0 919.8 L1319.0 919.8 L1313.0 919.8 L1307.0 919.8 L1301.0 919.8 L1295.0 919.8 L1289.0 919.8 L1283.0 919.8 L1277.0 919.8 L1271.0 919.8 L1265.0 919.8 L1259.0 919.8 L1253.0 919.8 L1247.0 919.8 L1241.0 919.8 L1235.0 919.8 L1229.0 919.8 L1223.0 919.8 L1217.0 919.8 L1211.0 919.8 L1205.0 919.8 L1199.0 919.8 L1193.0 919.8 L1187.0 919.8 L1181.0 919.8 L1175.0 919.7 L1169.0 919.6 L1163.0 919.6 L1157.1 919.5 L1151.1 919.4 L1145.1 919.3 L1139.1 919.2 L1133.1 919.0 L1127.1 918.9 L1121.1 918.7 L1115.1 918.5 L1109.1 918.2 L1103.1 917.8 L1097.1 917.2 L1091.1 916.5 L1085.1 915.5 L1079.1 914.3 L1073.1 912.7 L1067.1 910.8 L1061.1 908.5 L1055.1 905.8 L1049.1 902.5 L1043.1 898.7 L1037.1 894.2 L1031.1 889.3 L1025.1 884.0 L1019.1 878.5 L1013.1 872.8 L1007.1 867.1 L1001.1 861.3 L995.1 855.3 L989.1 849.2 L983.1 842.8 L977.1 836.2 L971.1 829.3 L965.1 822.1 L959.1 814.5 L953.1 806.7 L947.1 798.6 L941.1 790.2 L935.1 781.7 L929.1 773.2 L923.1 764.7 L917.1 756.2 L911.1 747.8 Z" fill="#DB843D"/>
<path d="M915.1 749.1 L921.1 746.8 L927.1 744.4 L933.2 741.8 L939.2 739.2 L945.2 736.6 L951.2 734.1 L957.3 731.9 L963.3 730.0 L969.3 728.3 L975.3 726.8 L981.4 725.5 L987.4 724.4 L993.4 723.4 L999.4 722.5 L1005.4 721.8 L1011.5 721.1 L1017.5 720.6 L1023.5 720.1 L1029.5 719.7 L1035.6 719.3 L1041.6 719.1 L1047.6 718.8 L1053.6 718.7 L1059.6 718.6 L1065.7 718.5 L1071.7 718.5 L1077.7 718.5 L1083.7 718.5 L1089.8 718.6 L1095.8 718.6 L1101.8 718.6 L1107.8 718.7 L1113.9 718.7 L1119.9 718.7 L1125.9 718.7 L1131.9 718.7 L1137.9 718.7 L1144.0 718.7 L1150.0 718.7 L1156.0 718.7 L1162.0 718.7 L1168.1 718.7 L1174.1 718.7 L1180.1 718.7 L1186.1 718.7 L1192.2 718.7 L1198.2 718.7 L1204.2 718.7 L1210.2 718.7 L1216.2 718.7 L1222.3 718.7 L1228.3 718.7 L1234.3 718.7 L1240.3 718.7 L1246.4 718.7 L1252.4 718.7 L1258.4 718.7 L1264.4 718.7 L1270.5 718.7 L1276.5 718.7 L1282.5 718.7 L1288.5 718.7 L1294.5 718.7 L1300.6 718.7 L1306.6 718.7 L1312.6 718.7 L1318.6 718.7 L1324.7 718.7 L1330.7 718.7 L1336.7 718.7 L1342.7 718.7 L1348.7 718.7 L1354.8 718.7 L1360.8 718.7 L1366.8 718.7 L1372.8 718.7 L1378.9 718.7 L1384.9 718.7 L1390.9 718.7 L1396.9 718.7 L1403.0 718.7 L1409.0 718.7 L1415.0 718.7 L1415.0 919.8 L1409.0 919.8 L1403.0 919.8 L1397.0 919.8 L1391.0 919.8 L1385.0 919.8 L1379.0 919.8 L1373.0 919.8 L1367.0 919.8 L1361.0 919.8 L1355.0 919.8 L1349.0 919.8 L1343.0 919.8 L1337.0 919.8 L1331.0 919.8 L1325.0 919.8 L1319.0 919.8 L1313.0 919.8 L1307.0 919.8 L1301.0 919.8 L1295.0 919.8 L1289.0 919.8 L1283.0 919.8 L1277.0 919.8 L1271.0 919.8 L1265.0 919.8 L1259.0 919.8 L1253.0 919.8 L1247.0 919.8 L1241.0 919.8 L1235.0 919.8 L1229.0 919.8 L1223.0 919.8 L1217.0 919.8 L1211.0 919.8 L1205.0 919.8 L1199.0 919.8 L1193.0 919.8 L1187.0 919.8 L1181.0 919.8 L1175.0 919.7 L1169.0 919.6 L1163.0 919.6 L1157.1 919.5 L1151.1 919.4 L1145.1 919.3 L1139.1 919.2 L1133.1 919.0 L1127.1 918.9 L1121.1 918.7 L1115.1 918.5 L1109.1 918.2 L1103.1 917.8 L1097.1 917.2 L1091.1 916.5 L1085.1 915.5 L1079.1 914.3 L1073.1 912.7 L1067.1 910.8 L1061.1 908.5 L1055.1 905.8 L1049.1 902.5 L1043.1 898.7 L1037.1 894.2 L1031.1 889.3 L1025.1 884.0 L1019.1 878.5 L1013.1 872.8 L1007.1 867.1 L1001.1 861.3 L995.1 855.3 L989.1 849.2 L983.1 842.8 L977.1 836.2 L971.1 829.3 L965.1 822.1 L959.1 814.5 L953.1 806.7 L947.1 798.6 L941.1 790.2 L935.1 781.7 L929.1 773.2 L923.1 764.7 L917.1 756.2 L911.1 747.8 Z" fill="#4198AF"/>
<path d="M915.1 749.1 L921.1 746.8 L927.1 744.4 L933.2 741.8 L939.2 739.2 L945.2 736.6 L951.2 734.1 L957.3 731.9 L963.3 730.0 L969.3 728.3 L975.3 726.8 L981.4 725.5 L987.4 724.4 L993.4 723.4 L999.4 722.5 L1005.4 721.8 L1011.5 721.1 L1017.5 720.6 L1023.5 720.1 L1029.5 719.7 L1035.6 719.3 L1041.6 719.1 L1047.6 718.8 L1053.6 718.7 L1059.6 718.6 L1065.7 718.5 L1071.7 718.5 L1077.7 718.5 L1083.7 718.5 L1089.8 718.6 L1095.8 718.6 L1101.8 718.6 L1107.8 718.7 L1113.9 718.7 L1119.9 718.7 L1125.9 718.7 L1131.9 718.7 L1137.9 718.7 L1144.0 718.7 L1150.0 718.7 L1156.0 718.7 L1162.0 718.7 L1168.1 718.7 L1174.1 718.7 L1180.1 718.7 L1186.1 718.7 L1192.2 718.7 L1198.2 718.7 L1204.2 718.7 L1210.2 718.7 L1216.2 718.7 L1222.3 718.7 L1228.3 718.7 L1234.3 718.7 L1240.3 718.7 L1246.4 718.7 L1252.4 718.7 L1258.4 718.7 L1264.4 718.7 L1270.5 718.7 L1276.5 718.7 L1282.5 718.7 L1288.5 718.7 L1294.5 718.7 L1300.6 718.7 L1306.6 718.7 L1312.6 718.7 L1318.6 718.7 L1324.7 718.7 L1330.7 718.7 L1336.7 718.7 L1342.7 718.7 L1348.7 718.7 L1354.8 718.7 L1360.8 718.7 L1366.8 718.7 L1372.8 718.7 L1378.9 718.7 L1384.9 718.7 L1390.9 718.7 L1396.9 718.7 L1403.0 718.7 L1409.0 718.7 L1415.0 718.7 L1415.0 846.9 L1409.0 846.9 L1403.0 846.9 L1397.0 846.9 L1391.0 846.9 L1385.0 846.9 L1379.0 846.9 L1373.0 846.9 L1367.0 846.9 L1361.0 846.9 L1355.0 846.9 L1349.0 846.9 L1343.0 846.9 L1337.0 846.9 L1331.0 846.9 L1325.0 846.9 L1319.0 846.9 L1313.0 846.8 L1307.0 846.8 L1301.0 846.8 L1295.0 846.8 L1289.0 846.8 L1283.0 846.8 L1277.0 846.8 L1271.0 846.8 L1265.0 846.8 L1259.0 846.8 L1253.0 846.8 L1247.0 846.8 L1241.0 846.8 L1235.0 846.8 L1229.0 846.8 L1223.0 846.8 L1217.0 846.8 L1211.0 846.8 L1205.0 846.8 L1199.0 846.8 L1193.0 846.8 L1187.0 846.8 L1181.0 846.8 L1175.0 846.7 L1169.0 846.7 L1163.0 846.7 L1157.1 846.6 L1151.1 846.6 L1145.1 846.6 L1139.1 846.5 L1133.1 846.5 L1127.1 846.4 L1121.1 846.3 L1115.1 846.1 L1109.1 845.9 L1103.1 845.6 L1097.1 845.2 L1091.1 844.7 L1085.1 844.0 L1079.1 843.1 L1073.1 842.0 L1067.1 840.6 L1061.1 839.0 L1055.1 837.1 L1049.1 835.1 L1043.1 832.7 L1037.1 830.2 L1031.1 827.5 L1025.1 824.6 L1019.1 821.6 L1013.1 818.5 L1007.1 815.3 L1001.1 812.0 L995.1 808.6 L989.1 805.2 L983.1 801.8 L977.1 798.4 L971.1 794.9 L965.1 791.2 L959.1 787.2 L953.1 783.0 L947.1 778.4 L941.1 773.6 L935.1 768.6 L929.1 763.5 L923.1 758.3 L917.1 753.0 L911.1 747.8 Z" fill="#89A54E"/>
<path d="M915.1 749.1 L921.1 746.8 L927.1 744.4 L933.2 741.8 L939.2 739.2 L945.2 736.6 L951.2 734.1 L957.3 731.9 L963.3 730.0 L969.3 728.3 L975.3 726.8 L981.4 725.5 L987.4 724.4 L993.4 723.4 L999.4 722.5 L1005.4 721.8 L1011.5 721.1 L1017.5 720.6 L1023.5 720.1 L1029.5 719.7 L1035.6 719.3 L1041.6 719.1 L1047.6 718.8 L1053.6 718.7 L1059.6 718.6 L1065.7 718.5 L1071.7 718.5 L1077.7 718.5 L1083.7 718.5 L1089.8 718.6 L1095.8 718.6 L1101.8 718.6 L1107.8 718.7 L1113.9 718.7 L1119.9 718.7 L1125.9 718.7 L1131.9 718.7 L1137.9 718.7 L1144.0 718.7 L1150.0 718.7 L1156.0 718.7 L1162.0 718.7 L1168.1 718.7 L1174.1 718.7 L1180.1 718.7 L1186.1 718.7 L1192.2 718.7 L1198.2 718.7 L1204.2 718.7 L1210.2 718.7 L1216.2 718.7 L1222.3 718.7 L1228.3 718.7 L1234.3 718.7 L1240.3 718.7 L1246.4 718.7 L1252.4 718.7 L1258.4 718.7 L1264.4 718.7 L1270.5 718.7 L1276.5 718.7 L1282.5 718.7 L1288.5 718.7 L1294.5 718.7 L1300.6 718.7 L1306.6 718.7 L1312.6 718.7 L1318.6 718.7 L1324.7 718.7 L1330.7 718.7 L1336.7 718.7 L1342.7 718.7 L1348.7 718.7 L1354.8 718.7 L1360.8 718.7 L1366.8 718.7 L1372.8 718.7 L1378.9 718.7 L1384.9 718.7 L1390.9 718.7 L1396.9 718.7 L1403.0 718.7 L1409.0 718.7 L1415.0 718.7 L1415.0 747.8 L911.1 747.8 Z" fill="#AA4643"/>
<path d="M911.1 747.8 H1417.2" stroke="#868686" stroke-width="2.2" fill="none"/>
<path d="M990.2 747.8 V757.8" stroke="#868686" stroke-width="2.2" fill="none"/>
<path d="M1069.3 747.8 V757.8" stroke="#868686" stroke-width="2.2" fill="none"/>
<path d="M1148.4 747.8 V757.8" stroke="#868686" stroke-width="2.2" fill="none"/>
<path d="M1227.5 747.8 V757.8" stroke="#868686" stroke-width="2.2" fill="none"/>
<path d="M1306.6 747.8 V757.8" stroke="#868686" stroke-width="2.2" fill="none"/>
<path d="M1385.7 747.8 V757.8" stroke="#868686" stroke-width="2.2" fill="none"/>
<path d="M911.1 564.3 V1021.7" stroke="#868686" stroke-width="2.2" fill="none"/>
<path d="M901.1 565.1 H911.1" stroke="#868686" stroke-width="2.2" fill="none"/>
<path d="M901.1 656.4 H911.1" stroke="#868686" stroke-width="2.2" fill="none"/>
<path d="M901.1 747.8 H911.1" stroke="#868686" stroke-width="2.2" fill="none"/>
<path d="M901.1 838.7 H911.1" stroke="#868686" stroke-width="2.2" fill="none"/>
<path d="M901.1 929.8 H911.1" stroke="#868686" stroke-width="2.2" fill="none"/>
<path d="M901.1 1020.9 H911.1" stroke="#868686" stroke-width="2.2" fill="none"/>
<text x="881.7" y="574.7" font-size="27.6" text-anchor="end" textLength="64.5" lengthAdjust="spacingAndGlyphs">1000</text>
<text x="881.7" y="666.0" font-size="27.6" text-anchor="end" textLength="49.0" lengthAdjust="spacingAndGlyphs">500</text>
<text x="881.7" y="757.4" font-size="27.6" text-anchor="end" textLength="17.0" lengthAdjust="spacingAndGlyphs">0</text>
<text x="881.7" y="848.3" font-size="27.6" text-anchor="end" textLength="58.3" lengthAdjust="spacingAndGlyphs">-500</text>
<text x="881.7" y="939.4" font-size="27.6" text-anchor="end" textLength="74.0" lengthAdjust="spacingAndGlyphs">-1000</text>
<text x="881.7" y="1030.5" font-size="27.6" text-anchor="end" textLength="74.0" lengthAdjust="spacingAndGlyphs">-1500</text>
<text transform="translate(764.9 798.3) rotate(-90)" font-size="27.6" text-anchor="middle" textLength="394.5" lengthAdjust="spacingAndGlyphs">Change in population at risk of</text>
<text transform="translate(803.1 800.0) rotate(-90)" font-size="27.6" text-anchor="middle" textLength="206.5" lengthAdjust="spacingAndGlyphs">hunger [million]</text>
<path d="M912.2 752.7 L918.2 759.4 L924.3 766.0 L930.3 772.4 L936.3 778.5 L942.3 784.2 L948.3 789.8 L954.3 795.4 L960.3 800.9 L966.4 806.5 L972.4 812.1 L978.4 817.9 L984.4 823.7 L990.4 829.6 L996.4 835.5 L1002.5 841.2 L1008.5 846.7 L1014.5 852.1 L1020.5 857.4 L1026.5 862.5 L1032.5 867.5 L1038.5 872.1 L1044.6 876.5 L1050.6 880.4 L1056.6 883.9 L1062.6 887.0 L1068.6 889.5 L1074.6 891.5 L1080.7 893.1 L1086.7 894.4 L1092.7 895.5 L1098.7 896.3 L1104.7 897.0 L1110.7 897.5 L1116.7 897.9 L1122.8 898.3 L1128.8 898.5 L1134.8 898.7 L1140.8 898.9 L1146.8 899.0 L1152.8 899.2 L1158.9 899.3 L1164.9 899.5 L1170.9 899.6 L1176.9 899.7 L1182.9 899.7 L1188.9 899.8 L1194.9 899.8 L1201.0 899.8 L1207.0 899.8 L1213.0 899.8 L1219.0 899.8 L1225.0 899.8 L1231.0 899.9 L1237.1 899.9 L1243.1 899.9 L1249.1 899.9 L1255.1 899.9 L1261.1 899.9 L1267.1 899.9 L1273.1 899.9 L1279.2 899.9 L1285.2 900.0 L1291.2 900.0 L1297.2 900.0 L1303.2 900.0 L1309.2 900.0 L1315.3 900.0 L1321.3 900.0 L1327.3 900.0 L1333.3 900.0 L1339.3 900.1 L1345.3 900.1 L1351.3 900.1 L1357.4 900.1 L1363.4 900.1 L1369.4 900.1 L1375.4 900.1 L1381.4 900.1 L1387.4 900.2 L1393.5 900.2 L1399.5 900.2 L1405.5 900.2 L1411.5 900.2" stroke="#FFFF00" stroke-width="5.5" fill="none" stroke-linecap="round" stroke-linejoin="round"/>
<text x="913.0" y="1070.9" font-size="27.6" text-anchor="middle" textLength="63.5" lengthAdjust="spacingAndGlyphs">2005</text>
<text x="992.1" y="1070.9" font-size="27.6" text-anchor="middle" textLength="63.5" lengthAdjust="spacingAndGlyphs">2020</text>
<text x="1071.2" y="1070.9" font-size="27.6" text-anchor="middle" textLength="63.5" lengthAdjust="spacingAndGlyphs">2035</text>
<text x="1150.3" y="1070.9" font-size="27.6" text-anchor="middle" textLength="63.5" lengthAdjust="spacingAndGlyphs">2050</text>
<text x="1229.4" y="1070.9" font-size="27.6" text-anchor="middle" textLength="63.5" lengthAdjust="spacingAndGlyphs">2065</text>
<text x="1308.5" y="1070.9" font-size="27.6" text-anchor="middle" textLength="63.5" lengthAdjust="spacingAndGlyphs">2080</text>
<text x="1387.6" y="1070.9" font-size="27.6" text-anchor="middle" textLength="63.5" lengthAdjust="spacingAndGlyphs">2095</text>
<text x="924.4" y="603.0" font-size="39.2" textLength="124.0" lengthAdjust="spacingAndGlyphs">e) SSP5</text>
</g>
<g id="panel-f">
<rect x="946.1" y="1273.5" width="42.8" height="32.7" fill="#AA4643"/>
<rect x="946.1" y="1306.2" width="42.8" height="103.3" fill="#89A54E"/>
<rect x="946.1" y="1409.5" width="42.8" height="76.3" fill="#31859C"/>
<rect x="946.1" y="1485.8" width="42.8" height="10.9" fill="#F79646"/>
<rect x="1053.1" y="1260.3" width="42.8" height="45.9" fill="#AA4643"/>
<rect x="1053.1" y="1306.2" width="42.8" height="99.0" fill="#89A54E"/>
<rect x="1053.1" y="1405.2" width="42.8" height="88.2" fill="#31859C"/>
<rect x="1053.1" y="1493.4" width="42.8" height="16.5" fill="#F79646"/>
<rect x="1160.1" y="1178.0" width="42.8" height="128.2" fill="#AA4643"/>
<rect x="1160.1" y="1306.2" width="42.8" height="56.5" fill="#89A54E"/>
<rect x="1160.1" y="1362.7" width="42.8" height="102.7" fill="#31859C"/>
<rect x="1160.1" y="1465.4" width="42.8" height="25.7" fill="#F79646"/>
<rect x="1267.0" y="1200.7" width="42.8" height="105.5" fill="#AA4643"/>
<rect x="1267.0" y="1306.2" width="42.8" height="60.5" fill="#89A54E"/>
<rect x="1267.0" y="1366.7" width="42.8" height="109.3" fill="#31859C"/>
<rect x="1267.0" y="1476.0" width="42.8" height="22.7" fill="#F79646"/>
<rect x="1373.6" y="1274.8" width="42.8" height="31.4" fill="#AA4643"/>
<rect x="1373.6" y="1306.2" width="42.8" height="102.6" fill="#89A54E"/>
<rect x="1373.6" y="1408.8" width="42.8" height="75.7" fill="#31859C"/>
<rect x="1373.6" y="1484.5" width="42.8" height="10.6" fill="#F79646"/>
<path d="M913.8 1306.2 H1448.9" stroke="#868686" stroke-width="2.2" fill="none"/>
<path d="M1020.8 1306.2 V1316.2" stroke="#868686" stroke-width="2.2" fill="none"/>
<path d="M1127.8 1306.2 V1316.2" stroke="#868686" stroke-width="2.2" fill="none"/>
<path d="M1234.8 1306.2 V1316.2" stroke="#868686" stroke-width="2.2" fill="none"/>
<path d="M1341.4 1306.2 V1316.2" stroke="#868686" stroke-width="2.2" fill="none"/>
<path d="M1448.1 1306.2 V1316.2" stroke="#868686" stroke-width="2.2" fill="none"/>
<path d="M913.8 1116.8 V1589.6" stroke="#868686" stroke-width="2.2" fill="none"/>
<path d="M903.8 1117.6 H913.8" stroke="#868686" stroke-width="2.2" fill="none"/>
<path d="M903.8 1211.8 H913.8" stroke="#868686" stroke-width="2.2" fill="none"/>
<path d="M903.8 1306.2 H913.8" stroke="#868686" stroke-width="2.2" fill="none"/>
<path d="M903.8 1400.0 H913.8" stroke="#868686" stroke-width="2.2" fill="none"/>
<path d="M903.8 1494.4 H913.8" stroke="#868686" stroke-width="2.2" fill="none"/>
<path d="M903.8 1588.8 H913.8" stroke="#868686" stroke-width="2.2" fill="none"/>
<text x="884.4" y="1127.2" font-size="27.6" text-anchor="end" textLength="64.5" lengthAdjust="spacingAndGlyphs">1000</text>
<text x="884.4" y="1221.4" font-size="27.6" text-anchor="end" textLength="49.0" lengthAdjust="spacingAndGlyphs">500</text>
<text x="884.4" y="1315.8" font-size="27.6" text-anchor="end" textLength="17.0" lengthAdjust="spacingAndGlyphs">0</text>
<text x="884.4" y="1409.6" font-size="27.6" text-anchor="end" textLength="58.3" lengthAdjust="spacingAndGlyphs">-500</text>
<text x="884.4" y="1504.0" font-size="27.6" text-anchor="end" textLength="74.0" lengthAdjust="spacingAndGlyphs">-1000</text>
<text x="884.4" y="1598.4" font-size="27.6" text-anchor="end" textLength="74.0" lengthAdjust="spacingAndGlyphs">-1500</text>
<text transform="translate(781.5 1352.6) rotate(-90)" font-size="27.6" text-anchor="middle" textLength="394.5" lengthAdjust="spacingAndGlyphs">Change in population at risk of</text>
<text transform="translate(820.4 1354.5) rotate(-90)" font-size="27.6" text-anchor="middle" textLength="206.5" lengthAdjust="spacingAndGlyphs">hunger [million]</text>
<path d="M967.5 1455.6 L975.7 1463.8 L967.5 1472.0 L959.3 1463.8 Z" fill="#FFFF00" stroke="#000" stroke-width="1.3"/>
<text x="967.5" y="1639.6" font-size="27.6" text-anchor="middle" textLength="61.5" lengthAdjust="spacingAndGlyphs">SSP1</text>
<path d="M1074.5 1455.6 L1082.7 1463.8 L1074.5 1472.0 L1066.3 1463.8 Z" fill="#FFFF00" stroke="#000" stroke-width="1.3"/>
<text x="1074.5" y="1639.6" font-size="27.6" text-anchor="middle" textLength="61.5" lengthAdjust="spacingAndGlyphs">SSP2</text>
<path d="M1181.5 1354.8 L1189.7 1363.0 L1181.5 1371.2 L1173.3 1363.0 Z" fill="#FFFF00" stroke="#000" stroke-width="1.3"/>
<text x="1181.5" y="1639.6" font-size="27.6" text-anchor="middle" textLength="61.5" lengthAdjust="spacingAndGlyphs">SSP3</text>
<path d="M1288.4 1384.8 L1296.6 1393.0 L1288.4 1401.2 L1280.2 1393.0 Z" fill="#FFFF00" stroke="#000" stroke-width="1.3"/>
<text x="1288.4" y="1639.6" font-size="27.6" text-anchor="middle" textLength="61.5" lengthAdjust="spacingAndGlyphs">SSP4</text>
<path d="M1395.0 1455.6 L1403.2 1463.8 L1395.0 1472.0 L1386.8 1463.8 Z" fill="#FFFF00" stroke="#000" stroke-width="1.3"/>
<text x="1395.0" y="1639.6" font-size="27.6" text-anchor="middle" textLength="61.5" lengthAdjust="spacingAndGlyphs">SSP5</text>
<text x="948.2" y="1149.7" font-size="39.2" textLength="121.0" lengthAdjust="spacingAndGlyphs">f) 2100</text>
</g>
<g id="legend">
<rect x="1467.0" y="1123.2" width="18" height="18" fill="#F79646"/>
<rect x="1467.0" y="1226.0" width="18" height="18" fill="#31859C"/>
<rect x="1467.0" y="1328.7" width="18" height="18" fill="#89A54E"/>
<rect x="1467.0" y="1431.5" width="18" height="18" fill="#AA4643"/>
<path d="M1475.6 1534.8 L1483.8 1543.0 L1475.6 1551.2 L1467.4 1543.0 Z" fill="#FFFF00" stroke="#000" stroke-width="1.3"/>
<text x="1492.6" y="1141.2" font-size="27.6" textLength="101.5" lengthAdjust="spacingAndGlyphs">residual</text>
<text x="1492.6" y="1243.9" font-size="27.6" textLength="223.5" lengthAdjust="spacingAndGlyphs">per-capita calorie</text>
<text x="1492.6" y="1282.0" font-size="27.6" textLength="127.0" lengthAdjust="spacingAndGlyphs">(domestic</text>
<text x="1492.6" y="1320.0" font-size="27.6" textLength="151.0" lengthAdjust="spacingAndGlyphs">production)</text>
<text x="1492.6" y="1346.4" font-size="27.6" textLength="226.5" lengthAdjust="spacingAndGlyphs">inequality of food</text>
<text x="1492.6" y="1384.3" font-size="27.6" textLength="148.5" lengthAdjust="spacingAndGlyphs">distribution</text>
<text x="1492.6" y="1449.1" font-size="27.6" textLength="138.5" lengthAdjust="spacingAndGlyphs">population</text>
<text x="1492.6" y="1551.9" font-size="27.6" textLength="142.0" lengthAdjust="spacingAndGlyphs">net change</text>
</g>
</svg></body></html>
